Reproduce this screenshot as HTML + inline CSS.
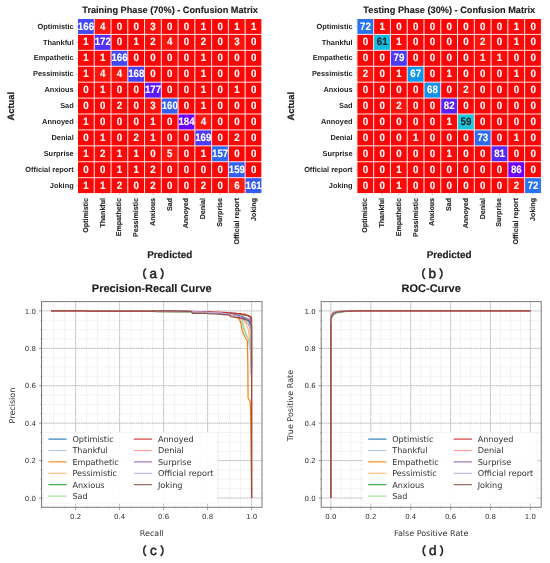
<!DOCTYPE html>
<html><head><meta charset="utf-8"><title>Confusion matrices, Precision-Recall and ROC curves</title>
<style>html,body{margin:0;padding:0;background:#fff}svg{display:block}</style></head><body>
<svg width="550" height="563" viewBox="0 0 550 563" text-rendering="geometricPrecision">
<rect width="550" height="563" fill="#fff"/>
<g>
<text x="170.1" y="12.8" text-anchor="middle" font-family="Liberation Sans, sans-serif" font-weight="bold" font-size="9.2" fill="#1c1c1c" stroke="#1c1c1c" stroke-width="0.12">Training Phase (70%) - Confusion Matrix</text>
<rect x="77.5" y="18.5" width="184.39999999999998" height="175.1" fill="#fb0606"/>
<rect x="77.50" y="18.50" width="16.76" height="15.92" fill="#4348f6"/>
<rect x="94.26" y="18.50" width="16.76" height="15.92" fill="#fb150d"/>
<rect x="144.55" y="18.50" width="16.76" height="15.92" fill="#fb120b"/>
<rect x="194.85" y="18.50" width="16.76" height="15.92" fill="#fb0807"/>
<rect x="228.37" y="18.50" width="16.76" height="15.92" fill="#fb0807"/>
<rect x="245.14" y="18.50" width="16.76" height="15.92" fill="#fb0807"/>
<rect x="77.50" y="34.42" width="16.76" height="15.92" fill="#fb0807"/>
<rect x="94.26" y="34.42" width="16.76" height="15.92" fill="#522ef7"/>
<rect x="127.79" y="34.42" width="16.76" height="15.92" fill="#fb0807"/>
<rect x="144.55" y="34.42" width="16.76" height="15.92" fill="#fb0b08"/>
<rect x="161.32" y="34.42" width="16.76" height="15.92" fill="#fb150d"/>
<rect x="194.85" y="34.42" width="16.76" height="15.92" fill="#fb0b08"/>
<rect x="228.37" y="34.42" width="16.76" height="15.92" fill="#fb120b"/>
<rect x="77.50" y="50.34" width="16.76" height="15.92" fill="#fb0807"/>
<rect x="94.26" y="50.34" width="16.76" height="15.92" fill="#fb0807"/>
<rect x="111.03" y="50.34" width="16.76" height="15.92" fill="#4348f6"/>
<rect x="194.85" y="50.34" width="16.76" height="15.92" fill="#fb0807"/>
<rect x="77.50" y="66.25" width="16.76" height="15.92" fill="#fb0807"/>
<rect x="94.26" y="66.25" width="16.76" height="15.92" fill="#fb150d"/>
<rect x="111.03" y="66.25" width="16.76" height="15.92" fill="#fb150d"/>
<rect x="127.79" y="66.25" width="16.76" height="15.92" fill="#483ff6"/>
<rect x="194.85" y="66.25" width="16.76" height="15.92" fill="#fb0807"/>
<rect x="94.26" y="82.17" width="16.76" height="15.92" fill="#fb0807"/>
<rect x="144.55" y="82.17" width="16.76" height="15.92" fill="#5e1af8"/>
<rect x="194.85" y="82.17" width="16.76" height="15.92" fill="#fb0807"/>
<rect x="228.37" y="82.17" width="16.76" height="15.92" fill="#fb0807"/>
<rect x="111.03" y="98.09" width="16.76" height="15.92" fill="#fb0b08"/>
<rect x="144.55" y="98.09" width="16.76" height="15.92" fill="#fb120b"/>
<rect x="161.32" y="98.09" width="16.76" height="15.92" fill="#355ef4"/>
<rect x="194.85" y="98.09" width="16.76" height="15.92" fill="#fb0807"/>
<rect x="77.50" y="114.01" width="16.76" height="15.92" fill="#fb0807"/>
<rect x="144.55" y="114.01" width="16.76" height="15.92" fill="#fb0807"/>
<rect x="178.08" y="114.01" width="16.76" height="15.92" fill="#6e00f9"/>
<rect x="194.85" y="114.01" width="16.76" height="15.92" fill="#fb150d"/>
<rect x="94.26" y="129.93" width="16.76" height="15.92" fill="#fb0807"/>
<rect x="127.79" y="129.93" width="16.76" height="15.92" fill="#fb0b08"/>
<rect x="144.55" y="129.93" width="16.76" height="15.92" fill="#fb0807"/>
<rect x="194.85" y="129.93" width="16.76" height="15.92" fill="#4b3af7"/>
<rect x="228.37" y="129.93" width="16.76" height="15.92" fill="#fb0b08"/>
<rect x="77.50" y="145.85" width="16.76" height="15.92" fill="#fb0807"/>
<rect x="94.26" y="145.85" width="16.76" height="15.92" fill="#fb0b08"/>
<rect x="111.03" y="145.85" width="16.76" height="15.92" fill="#fb0807"/>
<rect x="127.79" y="145.85" width="16.76" height="15.92" fill="#fb0807"/>
<rect x="161.32" y="145.85" width="16.76" height="15.92" fill="#fb180f"/>
<rect x="194.85" y="145.85" width="16.76" height="15.92" fill="#fb0807"/>
<rect x="211.61" y="145.85" width="16.76" height="15.92" fill="#2e68f2"/>
<rect x="111.03" y="161.76" width="16.76" height="15.92" fill="#fb0807"/>
<rect x="127.79" y="161.76" width="16.76" height="15.92" fill="#fb0807"/>
<rect x="144.55" y="161.76" width="16.76" height="15.92" fill="#fb0b08"/>
<rect x="228.37" y="161.76" width="16.76" height="15.92" fill="#3360f3"/>
<rect x="77.50" y="177.68" width="16.76" height="15.92" fill="#fb0807"/>
<rect x="94.26" y="177.68" width="16.76" height="15.92" fill="#fb0807"/>
<rect x="111.03" y="177.68" width="16.76" height="15.92" fill="#fb0b08"/>
<rect x="144.55" y="177.68" width="16.76" height="15.92" fill="#fb0b08"/>
<rect x="194.85" y="177.68" width="16.76" height="15.92" fill="#fb0b08"/>
<rect x="228.37" y="177.68" width="16.76" height="15.92" fill="#fb1e12"/>
<rect x="245.14" y="177.68" width="16.76" height="15.92" fill="#3858f4"/>
<line x1="94.26" y1="18.0" x2="94.26" y2="194.1" stroke="#ffe8e8" stroke-width="1"/>
<line x1="77.0" y1="34.42" x2="262.4" y2="34.42" stroke="#ffe8e8" stroke-width="1"/>
<line x1="111.03" y1="18.0" x2="111.03" y2="194.1" stroke="#ffe8e8" stroke-width="1"/>
<line x1="77.0" y1="50.34" x2="262.4" y2="50.34" stroke="#ffe8e8" stroke-width="1"/>
<line x1="127.79" y1="18.0" x2="127.79" y2="194.1" stroke="#ffe8e8" stroke-width="1"/>
<line x1="77.0" y1="66.25" x2="262.4" y2="66.25" stroke="#ffe8e8" stroke-width="1"/>
<line x1="144.55" y1="18.0" x2="144.55" y2="194.1" stroke="#ffe8e8" stroke-width="1"/>
<line x1="77.0" y1="82.17" x2="262.4" y2="82.17" stroke="#ffe8e8" stroke-width="1"/>
<line x1="161.32" y1="18.0" x2="161.32" y2="194.1" stroke="#ffe8e8" stroke-width="1"/>
<line x1="77.0" y1="98.09" x2="262.4" y2="98.09" stroke="#ffe8e8" stroke-width="1"/>
<line x1="178.08" y1="18.0" x2="178.08" y2="194.1" stroke="#ffe8e8" stroke-width="1"/>
<line x1="77.0" y1="114.01" x2="262.4" y2="114.01" stroke="#ffe8e8" stroke-width="1"/>
<line x1="194.85" y1="18.0" x2="194.85" y2="194.1" stroke="#ffe8e8" stroke-width="1"/>
<line x1="77.0" y1="129.93" x2="262.4" y2="129.93" stroke="#ffe8e8" stroke-width="1"/>
<line x1="211.61" y1="18.0" x2="211.61" y2="194.1" stroke="#ffe8e8" stroke-width="1"/>
<line x1="77.0" y1="145.85" x2="262.4" y2="145.85" stroke="#ffe8e8" stroke-width="1"/>
<line x1="228.37" y1="18.0" x2="228.37" y2="194.1" stroke="#ffe8e8" stroke-width="1"/>
<line x1="77.0" y1="161.76" x2="262.4" y2="161.76" stroke="#ffe8e8" stroke-width="1"/>
<line x1="245.14" y1="18.0" x2="245.14" y2="194.1" stroke="#ffe8e8" stroke-width="1"/>
<line x1="77.0" y1="177.68" x2="262.4" y2="177.68" stroke="#ffe8e8" stroke-width="1"/>
<line x1="77.50" y1="18.0" x2="77.50" y2="194.1" stroke="#ffffff" stroke-width="1"/>
<line x1="77.0" y1="18.50" x2="262.4" y2="18.50" stroke="#ffffff" stroke-width="1"/>
<line x1="261.90" y1="18.0" x2="261.90" y2="194.1" stroke="#ffffff" stroke-width="1"/>
<line x1="77.0" y1="193.60" x2="262.4" y2="193.60" stroke="#ffffff" stroke-width="1"/>
<text transform="translate(85.98,29.56) rotate(0.03) scale(0.91,1)" text-anchor="middle" font-family="Liberation Sans, sans-serif" font-weight="bold" font-size="10.7" fill="#ffffff" stroke="#ffffff" stroke-width="0.12">166</text>
<text transform="translate(102.75,29.56) rotate(0.03) scale(0.91,1)" text-anchor="middle" font-family="Liberation Sans, sans-serif" font-weight="bold" font-size="10.7" fill="#ffffff" stroke="#ffffff" stroke-width="0.12">4</text>
<text transform="translate(119.51,29.56) rotate(0.03) scale(0.91,1)" text-anchor="middle" font-family="Liberation Sans, sans-serif" font-weight="bold" font-size="10.7" fill="#ffffff" stroke="#ffffff" stroke-width="0.12">0</text>
<text transform="translate(136.27,29.56) rotate(0.03) scale(0.91,1)" text-anchor="middle" font-family="Liberation Sans, sans-serif" font-weight="bold" font-size="10.7" fill="#ffffff" stroke="#ffffff" stroke-width="0.12">0</text>
<text transform="translate(153.04,29.56) rotate(0.03) scale(0.91,1)" text-anchor="middle" font-family="Liberation Sans, sans-serif" font-weight="bold" font-size="10.7" fill="#ffffff" stroke="#ffffff" stroke-width="0.12">3</text>
<text transform="translate(169.80,29.56) rotate(0.03) scale(0.91,1)" text-anchor="middle" font-family="Liberation Sans, sans-serif" font-weight="bold" font-size="10.7" fill="#ffffff" stroke="#ffffff" stroke-width="0.12">0</text>
<text transform="translate(186.56,29.56) rotate(0.03) scale(0.91,1)" text-anchor="middle" font-family="Liberation Sans, sans-serif" font-weight="bold" font-size="10.7" fill="#ffffff" stroke="#ffffff" stroke-width="0.12">0</text>
<text transform="translate(203.33,29.56) rotate(0.03) scale(0.91,1)" text-anchor="middle" font-family="Liberation Sans, sans-serif" font-weight="bold" font-size="10.7" fill="#ffffff" stroke="#ffffff" stroke-width="0.12">1</text>
<text transform="translate(220.09,29.56) rotate(0.03) scale(0.91,1)" text-anchor="middle" font-family="Liberation Sans, sans-serif" font-weight="bold" font-size="10.7" fill="#ffffff" stroke="#ffffff" stroke-width="0.12">0</text>
<text transform="translate(236.85,29.56) rotate(0.03) scale(0.91,1)" text-anchor="middle" font-family="Liberation Sans, sans-serif" font-weight="bold" font-size="10.7" fill="#ffffff" stroke="#ffffff" stroke-width="0.12">1</text>
<text transform="translate(253.62,29.56) rotate(0.03) scale(0.91,1)" text-anchor="middle" font-family="Liberation Sans, sans-serif" font-weight="bold" font-size="10.7" fill="#ffffff" stroke="#ffffff" stroke-width="0.12">1</text>
<text transform="translate(85.98,45.48) rotate(0.03) scale(0.91,1)" text-anchor="middle" font-family="Liberation Sans, sans-serif" font-weight="bold" font-size="10.7" fill="#ffffff" stroke="#ffffff" stroke-width="0.12">1</text>
<text transform="translate(102.75,45.48) rotate(0.03) scale(0.91,1)" text-anchor="middle" font-family="Liberation Sans, sans-serif" font-weight="bold" font-size="10.7" fill="#ffffff" stroke="#ffffff" stroke-width="0.12">172</text>
<text transform="translate(119.51,45.48) rotate(0.03) scale(0.91,1)" text-anchor="middle" font-family="Liberation Sans, sans-serif" font-weight="bold" font-size="10.7" fill="#ffffff" stroke="#ffffff" stroke-width="0.12">0</text>
<text transform="translate(136.27,45.48) rotate(0.03) scale(0.91,1)" text-anchor="middle" font-family="Liberation Sans, sans-serif" font-weight="bold" font-size="10.7" fill="#ffffff" stroke="#ffffff" stroke-width="0.12">1</text>
<text transform="translate(153.04,45.48) rotate(0.03) scale(0.91,1)" text-anchor="middle" font-family="Liberation Sans, sans-serif" font-weight="bold" font-size="10.7" fill="#ffffff" stroke="#ffffff" stroke-width="0.12">2</text>
<text transform="translate(169.80,45.48) rotate(0.03) scale(0.91,1)" text-anchor="middle" font-family="Liberation Sans, sans-serif" font-weight="bold" font-size="10.7" fill="#ffffff" stroke="#ffffff" stroke-width="0.12">4</text>
<text transform="translate(186.56,45.48) rotate(0.03) scale(0.91,1)" text-anchor="middle" font-family="Liberation Sans, sans-serif" font-weight="bold" font-size="10.7" fill="#ffffff" stroke="#ffffff" stroke-width="0.12">0</text>
<text transform="translate(203.33,45.48) rotate(0.03) scale(0.91,1)" text-anchor="middle" font-family="Liberation Sans, sans-serif" font-weight="bold" font-size="10.7" fill="#ffffff" stroke="#ffffff" stroke-width="0.12">2</text>
<text transform="translate(220.09,45.48) rotate(0.03) scale(0.91,1)" text-anchor="middle" font-family="Liberation Sans, sans-serif" font-weight="bold" font-size="10.7" fill="#ffffff" stroke="#ffffff" stroke-width="0.12">0</text>
<text transform="translate(236.85,45.48) rotate(0.03) scale(0.91,1)" text-anchor="middle" font-family="Liberation Sans, sans-serif" font-weight="bold" font-size="10.7" fill="#ffffff" stroke="#ffffff" stroke-width="0.12">3</text>
<text transform="translate(253.62,45.48) rotate(0.03) scale(0.91,1)" text-anchor="middle" font-family="Liberation Sans, sans-serif" font-weight="bold" font-size="10.7" fill="#ffffff" stroke="#ffffff" stroke-width="0.12">0</text>
<text transform="translate(85.98,61.40) rotate(0.03) scale(0.91,1)" text-anchor="middle" font-family="Liberation Sans, sans-serif" font-weight="bold" font-size="10.7" fill="#ffffff" stroke="#ffffff" stroke-width="0.12">1</text>
<text transform="translate(102.75,61.40) rotate(0.03) scale(0.91,1)" text-anchor="middle" font-family="Liberation Sans, sans-serif" font-weight="bold" font-size="10.7" fill="#ffffff" stroke="#ffffff" stroke-width="0.12">1</text>
<text transform="translate(119.51,61.40) rotate(0.03) scale(0.91,1)" text-anchor="middle" font-family="Liberation Sans, sans-serif" font-weight="bold" font-size="10.7" fill="#ffffff" stroke="#ffffff" stroke-width="0.12">166</text>
<text transform="translate(136.27,61.40) rotate(0.03) scale(0.91,1)" text-anchor="middle" font-family="Liberation Sans, sans-serif" font-weight="bold" font-size="10.7" fill="#ffffff" stroke="#ffffff" stroke-width="0.12">0</text>
<text transform="translate(153.04,61.40) rotate(0.03) scale(0.91,1)" text-anchor="middle" font-family="Liberation Sans, sans-serif" font-weight="bold" font-size="10.7" fill="#ffffff" stroke="#ffffff" stroke-width="0.12">0</text>
<text transform="translate(169.80,61.40) rotate(0.03) scale(0.91,1)" text-anchor="middle" font-family="Liberation Sans, sans-serif" font-weight="bold" font-size="10.7" fill="#ffffff" stroke="#ffffff" stroke-width="0.12">0</text>
<text transform="translate(186.56,61.40) rotate(0.03) scale(0.91,1)" text-anchor="middle" font-family="Liberation Sans, sans-serif" font-weight="bold" font-size="10.7" fill="#ffffff" stroke="#ffffff" stroke-width="0.12">0</text>
<text transform="translate(203.33,61.40) rotate(0.03) scale(0.91,1)" text-anchor="middle" font-family="Liberation Sans, sans-serif" font-weight="bold" font-size="10.7" fill="#ffffff" stroke="#ffffff" stroke-width="0.12">1</text>
<text transform="translate(220.09,61.40) rotate(0.03) scale(0.91,1)" text-anchor="middle" font-family="Liberation Sans, sans-serif" font-weight="bold" font-size="10.7" fill="#ffffff" stroke="#ffffff" stroke-width="0.12">0</text>
<text transform="translate(236.85,61.40) rotate(0.03) scale(0.91,1)" text-anchor="middle" font-family="Liberation Sans, sans-serif" font-weight="bold" font-size="10.7" fill="#ffffff" stroke="#ffffff" stroke-width="0.12">0</text>
<text transform="translate(253.62,61.40) rotate(0.03) scale(0.91,1)" text-anchor="middle" font-family="Liberation Sans, sans-serif" font-weight="bold" font-size="10.7" fill="#ffffff" stroke="#ffffff" stroke-width="0.12">0</text>
<text transform="translate(85.98,77.31) rotate(0.03) scale(0.91,1)" text-anchor="middle" font-family="Liberation Sans, sans-serif" font-weight="bold" font-size="10.7" fill="#ffffff" stroke="#ffffff" stroke-width="0.12">1</text>
<text transform="translate(102.75,77.31) rotate(0.03) scale(0.91,1)" text-anchor="middle" font-family="Liberation Sans, sans-serif" font-weight="bold" font-size="10.7" fill="#ffffff" stroke="#ffffff" stroke-width="0.12">4</text>
<text transform="translate(119.51,77.31) rotate(0.03) scale(0.91,1)" text-anchor="middle" font-family="Liberation Sans, sans-serif" font-weight="bold" font-size="10.7" fill="#ffffff" stroke="#ffffff" stroke-width="0.12">4</text>
<text transform="translate(136.27,77.31) rotate(0.03) scale(0.91,1)" text-anchor="middle" font-family="Liberation Sans, sans-serif" font-weight="bold" font-size="10.7" fill="#ffffff" stroke="#ffffff" stroke-width="0.12">168</text>
<text transform="translate(153.04,77.31) rotate(0.03) scale(0.91,1)" text-anchor="middle" font-family="Liberation Sans, sans-serif" font-weight="bold" font-size="10.7" fill="#ffffff" stroke="#ffffff" stroke-width="0.12">0</text>
<text transform="translate(169.80,77.31) rotate(0.03) scale(0.91,1)" text-anchor="middle" font-family="Liberation Sans, sans-serif" font-weight="bold" font-size="10.7" fill="#ffffff" stroke="#ffffff" stroke-width="0.12">0</text>
<text transform="translate(186.56,77.31) rotate(0.03) scale(0.91,1)" text-anchor="middle" font-family="Liberation Sans, sans-serif" font-weight="bold" font-size="10.7" fill="#ffffff" stroke="#ffffff" stroke-width="0.12">0</text>
<text transform="translate(203.33,77.31) rotate(0.03) scale(0.91,1)" text-anchor="middle" font-family="Liberation Sans, sans-serif" font-weight="bold" font-size="10.7" fill="#ffffff" stroke="#ffffff" stroke-width="0.12">1</text>
<text transform="translate(220.09,77.31) rotate(0.03) scale(0.91,1)" text-anchor="middle" font-family="Liberation Sans, sans-serif" font-weight="bold" font-size="10.7" fill="#ffffff" stroke="#ffffff" stroke-width="0.12">0</text>
<text transform="translate(236.85,77.31) rotate(0.03) scale(0.91,1)" text-anchor="middle" font-family="Liberation Sans, sans-serif" font-weight="bold" font-size="10.7" fill="#ffffff" stroke="#ffffff" stroke-width="0.12">0</text>
<text transform="translate(253.62,77.31) rotate(0.03) scale(0.91,1)" text-anchor="middle" font-family="Liberation Sans, sans-serif" font-weight="bold" font-size="10.7" fill="#ffffff" stroke="#ffffff" stroke-width="0.12">0</text>
<text transform="translate(85.98,93.23) rotate(0.03) scale(0.91,1)" text-anchor="middle" font-family="Liberation Sans, sans-serif" font-weight="bold" font-size="10.7" fill="#ffffff" stroke="#ffffff" stroke-width="0.12">0</text>
<text transform="translate(102.75,93.23) rotate(0.03) scale(0.91,1)" text-anchor="middle" font-family="Liberation Sans, sans-serif" font-weight="bold" font-size="10.7" fill="#ffffff" stroke="#ffffff" stroke-width="0.12">1</text>
<text transform="translate(119.51,93.23) rotate(0.03) scale(0.91,1)" text-anchor="middle" font-family="Liberation Sans, sans-serif" font-weight="bold" font-size="10.7" fill="#ffffff" stroke="#ffffff" stroke-width="0.12">0</text>
<text transform="translate(136.27,93.23) rotate(0.03) scale(0.91,1)" text-anchor="middle" font-family="Liberation Sans, sans-serif" font-weight="bold" font-size="10.7" fill="#ffffff" stroke="#ffffff" stroke-width="0.12">0</text>
<text transform="translate(153.04,93.23) rotate(0.03) scale(0.91,1)" text-anchor="middle" font-family="Liberation Sans, sans-serif" font-weight="bold" font-size="10.7" fill="#ffffff" stroke="#ffffff" stroke-width="0.12">177</text>
<text transform="translate(169.80,93.23) rotate(0.03) scale(0.91,1)" text-anchor="middle" font-family="Liberation Sans, sans-serif" font-weight="bold" font-size="10.7" fill="#ffffff" stroke="#ffffff" stroke-width="0.12">0</text>
<text transform="translate(186.56,93.23) rotate(0.03) scale(0.91,1)" text-anchor="middle" font-family="Liberation Sans, sans-serif" font-weight="bold" font-size="10.7" fill="#ffffff" stroke="#ffffff" stroke-width="0.12">0</text>
<text transform="translate(203.33,93.23) rotate(0.03) scale(0.91,1)" text-anchor="middle" font-family="Liberation Sans, sans-serif" font-weight="bold" font-size="10.7" fill="#ffffff" stroke="#ffffff" stroke-width="0.12">1</text>
<text transform="translate(220.09,93.23) rotate(0.03) scale(0.91,1)" text-anchor="middle" font-family="Liberation Sans, sans-serif" font-weight="bold" font-size="10.7" fill="#ffffff" stroke="#ffffff" stroke-width="0.12">0</text>
<text transform="translate(236.85,93.23) rotate(0.03) scale(0.91,1)" text-anchor="middle" font-family="Liberation Sans, sans-serif" font-weight="bold" font-size="10.7" fill="#ffffff" stroke="#ffffff" stroke-width="0.12">1</text>
<text transform="translate(253.62,93.23) rotate(0.03) scale(0.91,1)" text-anchor="middle" font-family="Liberation Sans, sans-serif" font-weight="bold" font-size="10.7" fill="#ffffff" stroke="#ffffff" stroke-width="0.12">0</text>
<text transform="translate(85.98,109.15) rotate(0.03) scale(0.91,1)" text-anchor="middle" font-family="Liberation Sans, sans-serif" font-weight="bold" font-size="10.7" fill="#ffffff" stroke="#ffffff" stroke-width="0.12">0</text>
<text transform="translate(102.75,109.15) rotate(0.03) scale(0.91,1)" text-anchor="middle" font-family="Liberation Sans, sans-serif" font-weight="bold" font-size="10.7" fill="#ffffff" stroke="#ffffff" stroke-width="0.12">0</text>
<text transform="translate(119.51,109.15) rotate(0.03) scale(0.91,1)" text-anchor="middle" font-family="Liberation Sans, sans-serif" font-weight="bold" font-size="10.7" fill="#ffffff" stroke="#ffffff" stroke-width="0.12">2</text>
<text transform="translate(136.27,109.15) rotate(0.03) scale(0.91,1)" text-anchor="middle" font-family="Liberation Sans, sans-serif" font-weight="bold" font-size="10.7" fill="#ffffff" stroke="#ffffff" stroke-width="0.12">0</text>
<text transform="translate(153.04,109.15) rotate(0.03) scale(0.91,1)" text-anchor="middle" font-family="Liberation Sans, sans-serif" font-weight="bold" font-size="10.7" fill="#ffffff" stroke="#ffffff" stroke-width="0.12">3</text>
<text transform="translate(169.80,109.15) rotate(0.03) scale(0.91,1)" text-anchor="middle" font-family="Liberation Sans, sans-serif" font-weight="bold" font-size="10.7" fill="#ffffff" stroke="#ffffff" stroke-width="0.12">160</text>
<text transform="translate(186.56,109.15) rotate(0.03) scale(0.91,1)" text-anchor="middle" font-family="Liberation Sans, sans-serif" font-weight="bold" font-size="10.7" fill="#ffffff" stroke="#ffffff" stroke-width="0.12">0</text>
<text transform="translate(203.33,109.15) rotate(0.03) scale(0.91,1)" text-anchor="middle" font-family="Liberation Sans, sans-serif" font-weight="bold" font-size="10.7" fill="#ffffff" stroke="#ffffff" stroke-width="0.12">1</text>
<text transform="translate(220.09,109.15) rotate(0.03) scale(0.91,1)" text-anchor="middle" font-family="Liberation Sans, sans-serif" font-weight="bold" font-size="10.7" fill="#ffffff" stroke="#ffffff" stroke-width="0.12">0</text>
<text transform="translate(236.85,109.15) rotate(0.03) scale(0.91,1)" text-anchor="middle" font-family="Liberation Sans, sans-serif" font-weight="bold" font-size="10.7" fill="#ffffff" stroke="#ffffff" stroke-width="0.12">0</text>
<text transform="translate(253.62,109.15) rotate(0.03) scale(0.91,1)" text-anchor="middle" font-family="Liberation Sans, sans-serif" font-weight="bold" font-size="10.7" fill="#ffffff" stroke="#ffffff" stroke-width="0.12">0</text>
<text transform="translate(85.98,125.07) rotate(0.03) scale(0.91,1)" text-anchor="middle" font-family="Liberation Sans, sans-serif" font-weight="bold" font-size="10.7" fill="#ffffff" stroke="#ffffff" stroke-width="0.12">1</text>
<text transform="translate(102.75,125.07) rotate(0.03) scale(0.91,1)" text-anchor="middle" font-family="Liberation Sans, sans-serif" font-weight="bold" font-size="10.7" fill="#ffffff" stroke="#ffffff" stroke-width="0.12">0</text>
<text transform="translate(119.51,125.07) rotate(0.03) scale(0.91,1)" text-anchor="middle" font-family="Liberation Sans, sans-serif" font-weight="bold" font-size="10.7" fill="#ffffff" stroke="#ffffff" stroke-width="0.12">0</text>
<text transform="translate(136.27,125.07) rotate(0.03) scale(0.91,1)" text-anchor="middle" font-family="Liberation Sans, sans-serif" font-weight="bold" font-size="10.7" fill="#ffffff" stroke="#ffffff" stroke-width="0.12">0</text>
<text transform="translate(153.04,125.07) rotate(0.03) scale(0.91,1)" text-anchor="middle" font-family="Liberation Sans, sans-serif" font-weight="bold" font-size="10.7" fill="#ffffff" stroke="#ffffff" stroke-width="0.12">1</text>
<text transform="translate(169.80,125.07) rotate(0.03) scale(0.91,1)" text-anchor="middle" font-family="Liberation Sans, sans-serif" font-weight="bold" font-size="10.7" fill="#ffffff" stroke="#ffffff" stroke-width="0.12">0</text>
<text transform="translate(186.56,125.07) rotate(0.03) scale(0.91,1)" text-anchor="middle" font-family="Liberation Sans, sans-serif" font-weight="bold" font-size="10.7" fill="#ffffff" stroke="#ffffff" stroke-width="0.12">184</text>
<text transform="translate(203.33,125.07) rotate(0.03) scale(0.91,1)" text-anchor="middle" font-family="Liberation Sans, sans-serif" font-weight="bold" font-size="10.7" fill="#ffffff" stroke="#ffffff" stroke-width="0.12">4</text>
<text transform="translate(220.09,125.07) rotate(0.03) scale(0.91,1)" text-anchor="middle" font-family="Liberation Sans, sans-serif" font-weight="bold" font-size="10.7" fill="#ffffff" stroke="#ffffff" stroke-width="0.12">0</text>
<text transform="translate(236.85,125.07) rotate(0.03) scale(0.91,1)" text-anchor="middle" font-family="Liberation Sans, sans-serif" font-weight="bold" font-size="10.7" fill="#ffffff" stroke="#ffffff" stroke-width="0.12">0</text>
<text transform="translate(253.62,125.07) rotate(0.03) scale(0.91,1)" text-anchor="middle" font-family="Liberation Sans, sans-serif" font-weight="bold" font-size="10.7" fill="#ffffff" stroke="#ffffff" stroke-width="0.12">0</text>
<text transform="translate(85.98,140.99) rotate(0.03) scale(0.91,1)" text-anchor="middle" font-family="Liberation Sans, sans-serif" font-weight="bold" font-size="10.7" fill="#ffffff" stroke="#ffffff" stroke-width="0.12">0</text>
<text transform="translate(102.75,140.99) rotate(0.03) scale(0.91,1)" text-anchor="middle" font-family="Liberation Sans, sans-serif" font-weight="bold" font-size="10.7" fill="#ffffff" stroke="#ffffff" stroke-width="0.12">1</text>
<text transform="translate(119.51,140.99) rotate(0.03) scale(0.91,1)" text-anchor="middle" font-family="Liberation Sans, sans-serif" font-weight="bold" font-size="10.7" fill="#ffffff" stroke="#ffffff" stroke-width="0.12">0</text>
<text transform="translate(136.27,140.99) rotate(0.03) scale(0.91,1)" text-anchor="middle" font-family="Liberation Sans, sans-serif" font-weight="bold" font-size="10.7" fill="#ffffff" stroke="#ffffff" stroke-width="0.12">2</text>
<text transform="translate(153.04,140.99) rotate(0.03) scale(0.91,1)" text-anchor="middle" font-family="Liberation Sans, sans-serif" font-weight="bold" font-size="10.7" fill="#ffffff" stroke="#ffffff" stroke-width="0.12">1</text>
<text transform="translate(169.80,140.99) rotate(0.03) scale(0.91,1)" text-anchor="middle" font-family="Liberation Sans, sans-serif" font-weight="bold" font-size="10.7" fill="#ffffff" stroke="#ffffff" stroke-width="0.12">0</text>
<text transform="translate(186.56,140.99) rotate(0.03) scale(0.91,1)" text-anchor="middle" font-family="Liberation Sans, sans-serif" font-weight="bold" font-size="10.7" fill="#ffffff" stroke="#ffffff" stroke-width="0.12">0</text>
<text transform="translate(203.33,140.99) rotate(0.03) scale(0.91,1)" text-anchor="middle" font-family="Liberation Sans, sans-serif" font-weight="bold" font-size="10.7" fill="#ffffff" stroke="#ffffff" stroke-width="0.12">169</text>
<text transform="translate(220.09,140.99) rotate(0.03) scale(0.91,1)" text-anchor="middle" font-family="Liberation Sans, sans-serif" font-weight="bold" font-size="10.7" fill="#ffffff" stroke="#ffffff" stroke-width="0.12">0</text>
<text transform="translate(236.85,140.99) rotate(0.03) scale(0.91,1)" text-anchor="middle" font-family="Liberation Sans, sans-serif" font-weight="bold" font-size="10.7" fill="#ffffff" stroke="#ffffff" stroke-width="0.12">2</text>
<text transform="translate(253.62,140.99) rotate(0.03) scale(0.91,1)" text-anchor="middle" font-family="Liberation Sans, sans-serif" font-weight="bold" font-size="10.7" fill="#ffffff" stroke="#ffffff" stroke-width="0.12">0</text>
<text transform="translate(85.98,156.90) rotate(0.03) scale(0.91,1)" text-anchor="middle" font-family="Liberation Sans, sans-serif" font-weight="bold" font-size="10.7" fill="#ffffff" stroke="#ffffff" stroke-width="0.12">1</text>
<text transform="translate(102.75,156.90) rotate(0.03) scale(0.91,1)" text-anchor="middle" font-family="Liberation Sans, sans-serif" font-weight="bold" font-size="10.7" fill="#ffffff" stroke="#ffffff" stroke-width="0.12">2</text>
<text transform="translate(119.51,156.90) rotate(0.03) scale(0.91,1)" text-anchor="middle" font-family="Liberation Sans, sans-serif" font-weight="bold" font-size="10.7" fill="#ffffff" stroke="#ffffff" stroke-width="0.12">1</text>
<text transform="translate(136.27,156.90) rotate(0.03) scale(0.91,1)" text-anchor="middle" font-family="Liberation Sans, sans-serif" font-weight="bold" font-size="10.7" fill="#ffffff" stroke="#ffffff" stroke-width="0.12">1</text>
<text transform="translate(153.04,156.90) rotate(0.03) scale(0.91,1)" text-anchor="middle" font-family="Liberation Sans, sans-serif" font-weight="bold" font-size="10.7" fill="#ffffff" stroke="#ffffff" stroke-width="0.12">0</text>
<text transform="translate(169.80,156.90) rotate(0.03) scale(0.91,1)" text-anchor="middle" font-family="Liberation Sans, sans-serif" font-weight="bold" font-size="10.7" fill="#ffffff" stroke="#ffffff" stroke-width="0.12">5</text>
<text transform="translate(186.56,156.90) rotate(0.03) scale(0.91,1)" text-anchor="middle" font-family="Liberation Sans, sans-serif" font-weight="bold" font-size="10.7" fill="#ffffff" stroke="#ffffff" stroke-width="0.12">0</text>
<text transform="translate(203.33,156.90) rotate(0.03) scale(0.91,1)" text-anchor="middle" font-family="Liberation Sans, sans-serif" font-weight="bold" font-size="10.7" fill="#ffffff" stroke="#ffffff" stroke-width="0.12">1</text>
<text transform="translate(220.09,156.90) rotate(0.03) scale(0.91,1)" text-anchor="middle" font-family="Liberation Sans, sans-serif" font-weight="bold" font-size="10.7" fill="#ffffff" stroke="#ffffff" stroke-width="0.12">157</text>
<text transform="translate(236.85,156.90) rotate(0.03) scale(0.91,1)" text-anchor="middle" font-family="Liberation Sans, sans-serif" font-weight="bold" font-size="10.7" fill="#ffffff" stroke="#ffffff" stroke-width="0.12">0</text>
<text transform="translate(253.62,156.90) rotate(0.03) scale(0.91,1)" text-anchor="middle" font-family="Liberation Sans, sans-serif" font-weight="bold" font-size="10.7" fill="#ffffff" stroke="#ffffff" stroke-width="0.12">0</text>
<text transform="translate(85.98,172.82) rotate(0.03) scale(0.91,1)" text-anchor="middle" font-family="Liberation Sans, sans-serif" font-weight="bold" font-size="10.7" fill="#ffffff" stroke="#ffffff" stroke-width="0.12">0</text>
<text transform="translate(102.75,172.82) rotate(0.03) scale(0.91,1)" text-anchor="middle" font-family="Liberation Sans, sans-serif" font-weight="bold" font-size="10.7" fill="#ffffff" stroke="#ffffff" stroke-width="0.12">0</text>
<text transform="translate(119.51,172.82) rotate(0.03) scale(0.91,1)" text-anchor="middle" font-family="Liberation Sans, sans-serif" font-weight="bold" font-size="10.7" fill="#ffffff" stroke="#ffffff" stroke-width="0.12">1</text>
<text transform="translate(136.27,172.82) rotate(0.03) scale(0.91,1)" text-anchor="middle" font-family="Liberation Sans, sans-serif" font-weight="bold" font-size="10.7" fill="#ffffff" stroke="#ffffff" stroke-width="0.12">1</text>
<text transform="translate(153.04,172.82) rotate(0.03) scale(0.91,1)" text-anchor="middle" font-family="Liberation Sans, sans-serif" font-weight="bold" font-size="10.7" fill="#ffffff" stroke="#ffffff" stroke-width="0.12">2</text>
<text transform="translate(169.80,172.82) rotate(0.03) scale(0.91,1)" text-anchor="middle" font-family="Liberation Sans, sans-serif" font-weight="bold" font-size="10.7" fill="#ffffff" stroke="#ffffff" stroke-width="0.12">0</text>
<text transform="translate(186.56,172.82) rotate(0.03) scale(0.91,1)" text-anchor="middle" font-family="Liberation Sans, sans-serif" font-weight="bold" font-size="10.7" fill="#ffffff" stroke="#ffffff" stroke-width="0.12">0</text>
<text transform="translate(203.33,172.82) rotate(0.03) scale(0.91,1)" text-anchor="middle" font-family="Liberation Sans, sans-serif" font-weight="bold" font-size="10.7" fill="#ffffff" stroke="#ffffff" stroke-width="0.12">0</text>
<text transform="translate(220.09,172.82) rotate(0.03) scale(0.91,1)" text-anchor="middle" font-family="Liberation Sans, sans-serif" font-weight="bold" font-size="10.7" fill="#ffffff" stroke="#ffffff" stroke-width="0.12">0</text>
<text transform="translate(236.85,172.82) rotate(0.03) scale(0.91,1)" text-anchor="middle" font-family="Liberation Sans, sans-serif" font-weight="bold" font-size="10.7" fill="#ffffff" stroke="#ffffff" stroke-width="0.12">159</text>
<text transform="translate(253.62,172.82) rotate(0.03) scale(0.91,1)" text-anchor="middle" font-family="Liberation Sans, sans-serif" font-weight="bold" font-size="10.7" fill="#ffffff" stroke="#ffffff" stroke-width="0.12">0</text>
<text transform="translate(85.98,188.74) rotate(0.03) scale(0.91,1)" text-anchor="middle" font-family="Liberation Sans, sans-serif" font-weight="bold" font-size="10.7" fill="#ffffff" stroke="#ffffff" stroke-width="0.12">1</text>
<text transform="translate(102.75,188.74) rotate(0.03) scale(0.91,1)" text-anchor="middle" font-family="Liberation Sans, sans-serif" font-weight="bold" font-size="10.7" fill="#ffffff" stroke="#ffffff" stroke-width="0.12">1</text>
<text transform="translate(119.51,188.74) rotate(0.03) scale(0.91,1)" text-anchor="middle" font-family="Liberation Sans, sans-serif" font-weight="bold" font-size="10.7" fill="#ffffff" stroke="#ffffff" stroke-width="0.12">2</text>
<text transform="translate(136.27,188.74) rotate(0.03) scale(0.91,1)" text-anchor="middle" font-family="Liberation Sans, sans-serif" font-weight="bold" font-size="10.7" fill="#ffffff" stroke="#ffffff" stroke-width="0.12">0</text>
<text transform="translate(153.04,188.74) rotate(0.03) scale(0.91,1)" text-anchor="middle" font-family="Liberation Sans, sans-serif" font-weight="bold" font-size="10.7" fill="#ffffff" stroke="#ffffff" stroke-width="0.12">2</text>
<text transform="translate(169.80,188.74) rotate(0.03) scale(0.91,1)" text-anchor="middle" font-family="Liberation Sans, sans-serif" font-weight="bold" font-size="10.7" fill="#ffffff" stroke="#ffffff" stroke-width="0.12">0</text>
<text transform="translate(186.56,188.74) rotate(0.03) scale(0.91,1)" text-anchor="middle" font-family="Liberation Sans, sans-serif" font-weight="bold" font-size="10.7" fill="#ffffff" stroke="#ffffff" stroke-width="0.12">0</text>
<text transform="translate(203.33,188.74) rotate(0.03) scale(0.91,1)" text-anchor="middle" font-family="Liberation Sans, sans-serif" font-weight="bold" font-size="10.7" fill="#ffffff" stroke="#ffffff" stroke-width="0.12">2</text>
<text transform="translate(220.09,188.74) rotate(0.03) scale(0.91,1)" text-anchor="middle" font-family="Liberation Sans, sans-serif" font-weight="bold" font-size="10.7" fill="#ffffff" stroke="#ffffff" stroke-width="0.12">0</text>
<text transform="translate(236.85,188.74) rotate(0.03) scale(0.91,1)" text-anchor="middle" font-family="Liberation Sans, sans-serif" font-weight="bold" font-size="10.7" fill="#ffffff" stroke="#ffffff" stroke-width="0.12">6</text>
<text transform="translate(253.62,188.74) rotate(0.03) scale(0.91,1)" text-anchor="middle" font-family="Liberation Sans, sans-serif" font-weight="bold" font-size="10.7" fill="#ffffff" stroke="#ffffff" stroke-width="0.12">161</text>
<line x1="76.0" y1="26.46" x2="78.0" y2="26.46" stroke="#999" stroke-width="0.5"/>
<line x1="85.88" y1="193.1" x2="85.88" y2="195.1" stroke="#999" stroke-width="0.5"/>
<text x="73.70" y="28.61" text-anchor="end" font-family="Liberation Sans, sans-serif" font-weight="bold" font-size="7.4" fill="#262626">Optimistic</text>
<text transform="translate(87.88,198.00) rotate(-90)" text-anchor="end" font-family="Liberation Sans, sans-serif" font-weight="bold" font-size="7.1" fill="#262626" stroke="#262626" stroke-width="0.15">Optimistic</text>
<line x1="76.0" y1="42.38" x2="78.0" y2="42.38" stroke="#999" stroke-width="0.5"/>
<line x1="102.65" y1="193.1" x2="102.65" y2="195.1" stroke="#999" stroke-width="0.5"/>
<text x="73.70" y="44.53" text-anchor="end" font-family="Liberation Sans, sans-serif" font-weight="bold" font-size="7.4" fill="#262626">Thankful</text>
<text transform="translate(104.65,198.00) rotate(-90)" text-anchor="end" font-family="Liberation Sans, sans-serif" font-weight="bold" font-size="7.1" fill="#262626" stroke="#262626" stroke-width="0.15">Thankful</text>
<line x1="76.0" y1="58.30" x2="78.0" y2="58.30" stroke="#999" stroke-width="0.5"/>
<line x1="119.41" y1="193.1" x2="119.41" y2="195.1" stroke="#999" stroke-width="0.5"/>
<text x="73.70" y="60.45" text-anchor="end" font-family="Liberation Sans, sans-serif" font-weight="bold" font-size="7.4" fill="#262626">Empathetic</text>
<text transform="translate(121.41,198.00) rotate(-90)" text-anchor="end" font-family="Liberation Sans, sans-serif" font-weight="bold" font-size="7.1" fill="#262626" stroke="#262626" stroke-width="0.15">Empathetic</text>
<line x1="76.0" y1="74.21" x2="78.0" y2="74.21" stroke="#999" stroke-width="0.5"/>
<line x1="136.17" y1="193.1" x2="136.17" y2="195.1" stroke="#999" stroke-width="0.5"/>
<text x="73.70" y="76.36" text-anchor="end" font-family="Liberation Sans, sans-serif" font-weight="bold" font-size="7.4" fill="#262626">Pessimistic</text>
<text transform="translate(138.17,198.00) rotate(-90)" text-anchor="end" font-family="Liberation Sans, sans-serif" font-weight="bold" font-size="7.1" fill="#262626" stroke="#262626" stroke-width="0.15">Pessimistic</text>
<line x1="76.0" y1="90.13" x2="78.0" y2="90.13" stroke="#999" stroke-width="0.5"/>
<line x1="152.94" y1="193.1" x2="152.94" y2="195.1" stroke="#999" stroke-width="0.5"/>
<text x="73.70" y="92.28" text-anchor="end" font-family="Liberation Sans, sans-serif" font-weight="bold" font-size="7.4" fill="#262626">Anxious</text>
<text transform="translate(154.94,198.00) rotate(-90)" text-anchor="end" font-family="Liberation Sans, sans-serif" font-weight="bold" font-size="7.1" fill="#262626" stroke="#262626" stroke-width="0.15">Anxious</text>
<line x1="76.0" y1="106.05" x2="78.0" y2="106.05" stroke="#999" stroke-width="0.5"/>
<line x1="169.70" y1="193.1" x2="169.70" y2="195.1" stroke="#999" stroke-width="0.5"/>
<text x="73.70" y="108.20" text-anchor="end" font-family="Liberation Sans, sans-serif" font-weight="bold" font-size="7.4" fill="#262626">Sad</text>
<text transform="translate(171.70,198.00) rotate(-90)" text-anchor="end" font-family="Liberation Sans, sans-serif" font-weight="bold" font-size="7.1" fill="#262626" stroke="#262626" stroke-width="0.15">Sad</text>
<line x1="76.0" y1="121.97" x2="78.0" y2="121.97" stroke="#999" stroke-width="0.5"/>
<line x1="186.46" y1="193.1" x2="186.46" y2="195.1" stroke="#999" stroke-width="0.5"/>
<text x="73.70" y="124.12" text-anchor="end" font-family="Liberation Sans, sans-serif" font-weight="bold" font-size="7.4" fill="#262626">Annoyed</text>
<text transform="translate(188.46,198.00) rotate(-90)" text-anchor="end" font-family="Liberation Sans, sans-serif" font-weight="bold" font-size="7.1" fill="#262626" stroke="#262626" stroke-width="0.15">Annoyed</text>
<line x1="76.0" y1="137.89" x2="78.0" y2="137.89" stroke="#999" stroke-width="0.5"/>
<line x1="203.23" y1="193.1" x2="203.23" y2="195.1" stroke="#999" stroke-width="0.5"/>
<text x="73.70" y="140.04" text-anchor="end" font-family="Liberation Sans, sans-serif" font-weight="bold" font-size="7.4" fill="#262626">Denial</text>
<text transform="translate(205.23,198.00) rotate(-90)" text-anchor="end" font-family="Liberation Sans, sans-serif" font-weight="bold" font-size="7.1" fill="#262626" stroke="#262626" stroke-width="0.15">Denial</text>
<line x1="76.0" y1="153.80" x2="78.0" y2="153.80" stroke="#999" stroke-width="0.5"/>
<line x1="219.99" y1="193.1" x2="219.99" y2="195.1" stroke="#999" stroke-width="0.5"/>
<text x="73.70" y="155.95" text-anchor="end" font-family="Liberation Sans, sans-serif" font-weight="bold" font-size="7.4" fill="#262626">Surprise</text>
<text transform="translate(221.99,198.00) rotate(-90)" text-anchor="end" font-family="Liberation Sans, sans-serif" font-weight="bold" font-size="7.1" fill="#262626" stroke="#262626" stroke-width="0.15">Surprise</text>
<line x1="76.0" y1="169.72" x2="78.0" y2="169.72" stroke="#999" stroke-width="0.5"/>
<line x1="236.75" y1="193.1" x2="236.75" y2="195.1" stroke="#999" stroke-width="0.5"/>
<text x="73.70" y="171.87" text-anchor="end" font-family="Liberation Sans, sans-serif" font-weight="bold" font-size="7.4" fill="#262626">Official report</text>
<text transform="translate(238.75,198.00) rotate(-90)" text-anchor="end" font-family="Liberation Sans, sans-serif" font-weight="bold" font-size="7.1" fill="#262626" stroke="#262626" stroke-width="0.15">Official report</text>
<line x1="76.0" y1="185.64" x2="78.0" y2="185.64" stroke="#999" stroke-width="0.5"/>
<line x1="253.52" y1="193.1" x2="253.52" y2="195.1" stroke="#999" stroke-width="0.5"/>
<text x="73.70" y="187.79" text-anchor="end" font-family="Liberation Sans, sans-serif" font-weight="bold" font-size="7.4" fill="#262626">Joking</text>
<text transform="translate(255.52,198.00) rotate(-90)" text-anchor="end" font-family="Liberation Sans, sans-serif" font-weight="bold" font-size="7.1" fill="#262626" stroke="#262626" stroke-width="0.15">Joking</text>
<text transform="translate(14.1,106.25) rotate(-90)" text-anchor="middle" font-family="Liberation Sans, sans-serif" font-weight="bold" font-size="9.3" fill="#1c1c1c" stroke="#1c1c1c" stroke-width="0.2">Actual</text>
<text x="169.70" y="258.2" text-anchor="middle" font-family="Liberation Sans, sans-serif" font-weight="bold" font-size="9.9" fill="#1c1c1c" stroke="#1c1c1c" stroke-width="0.15">Predicted</text>
<text x="146.80" y="278.10" text-anchor="end" font-family="Liberation Sans, Noto Sans CJK SC, sans-serif" font-size="11.4" font-weight="bold" fill="#222" stroke="#222" stroke-width="0.25">（</text>
<text x="153.20" y="278.30" text-anchor="middle" font-family="Liberation Sans, Noto Sans CJK SC, sans-serif" font-size="13.5" fill="#222" stroke="#222" stroke-width="0.5">a</text>
<text x="159.70" y="278.10" text-anchor="start" font-family="Liberation Sans, Noto Sans CJK SC, sans-serif" font-size="11.4" font-weight="bold" fill="#222" stroke="#222" stroke-width="0.25">）</text>
</g>
<g>
<text x="449.3" y="12.8" text-anchor="middle" font-family="Liberation Sans, sans-serif" font-weight="bold" font-size="9.2" fill="#1c1c1c" stroke="#1c1c1c" stroke-width="0.12">Testing Phase (30%) - Confusion Matrix</text>
<rect x="356.9" y="18.5" width="184.5" height="175.1" fill="#fb0606"/>
<rect x="356.90" y="18.50" width="16.77" height="15.92" fill="#2773f1"/>
<rect x="373.67" y="18.50" width="16.77" height="15.92" fill="#fb0b08"/>
<rect x="507.85" y="18.50" width="16.77" height="15.92" fill="#fb0b08"/>
<rect x="373.67" y="34.42" width="16.77" height="15.92" fill="#12bbdf"/>
<rect x="390.45" y="34.42" width="16.77" height="15.92" fill="#fb0b08"/>
<rect x="474.31" y="34.42" width="16.77" height="15.92" fill="#fb150d"/>
<rect x="507.85" y="34.42" width="16.77" height="15.92" fill="#fb0b08"/>
<rect x="390.45" y="50.34" width="16.77" height="15.92" fill="#4b3af7"/>
<rect x="474.31" y="50.34" width="16.77" height="15.92" fill="#fb0b08"/>
<rect x="491.08" y="50.34" width="16.77" height="15.92" fill="#fb0b08"/>
<rect x="356.90" y="66.25" width="16.77" height="15.92" fill="#fb150d"/>
<rect x="390.45" y="66.25" width="16.77" height="15.92" fill="#fb0b08"/>
<rect x="407.22" y="66.25" width="16.77" height="15.92" fill="#0d97ea"/>
<rect x="440.76" y="66.25" width="16.77" height="15.92" fill="#fb0b08"/>
<rect x="507.85" y="66.25" width="16.77" height="15.92" fill="#fb0b08"/>
<rect x="423.99" y="82.17" width="16.77" height="15.92" fill="#1290eb"/>
<rect x="457.54" y="82.17" width="16.77" height="15.92" fill="#fb150d"/>
<rect x="390.45" y="98.09" width="16.77" height="15.92" fill="#fb150d"/>
<rect x="440.76" y="98.09" width="16.77" height="15.92" fill="#5b20f8"/>
<rect x="440.76" y="114.01" width="16.77" height="15.92" fill="#fb0b08"/>
<rect x="457.54" y="114.01" width="16.77" height="15.92" fill="#1cc6db"/>
<rect x="407.22" y="129.93" width="16.77" height="15.92" fill="#fb0b08"/>
<rect x="474.31" y="129.93" width="16.77" height="15.92" fill="#2c6bf2"/>
<rect x="507.85" y="129.93" width="16.77" height="15.92" fill="#fb0b08"/>
<rect x="440.76" y="145.85" width="16.77" height="15.92" fill="#fb0b08"/>
<rect x="491.08" y="145.85" width="16.77" height="15.92" fill="#5629f8"/>
<rect x="390.45" y="161.76" width="16.77" height="15.92" fill="#fb0b08"/>
<rect x="507.85" y="161.76" width="16.77" height="15.92" fill="#6e00f9"/>
<rect x="390.45" y="177.68" width="16.77" height="15.92" fill="#fb0b08"/>
<rect x="507.85" y="177.68" width="16.77" height="15.92" fill="#fb150d"/>
<rect x="524.63" y="177.68" width="16.77" height="15.92" fill="#2773f1"/>
<line x1="373.67" y1="18.0" x2="373.67" y2="194.1" stroke="#ffe8e8" stroke-width="1"/>
<line x1="356.4" y1="34.42" x2="541.9" y2="34.42" stroke="#ffe8e8" stroke-width="1"/>
<line x1="390.45" y1="18.0" x2="390.45" y2="194.1" stroke="#ffe8e8" stroke-width="1"/>
<line x1="356.4" y1="50.34" x2="541.9" y2="50.34" stroke="#ffe8e8" stroke-width="1"/>
<line x1="407.22" y1="18.0" x2="407.22" y2="194.1" stroke="#ffe8e8" stroke-width="1"/>
<line x1="356.4" y1="66.25" x2="541.9" y2="66.25" stroke="#ffe8e8" stroke-width="1"/>
<line x1="423.99" y1="18.0" x2="423.99" y2="194.1" stroke="#ffe8e8" stroke-width="1"/>
<line x1="356.4" y1="82.17" x2="541.9" y2="82.17" stroke="#ffe8e8" stroke-width="1"/>
<line x1="440.76" y1="18.0" x2="440.76" y2="194.1" stroke="#ffe8e8" stroke-width="1"/>
<line x1="356.4" y1="98.09" x2="541.9" y2="98.09" stroke="#ffe8e8" stroke-width="1"/>
<line x1="457.54" y1="18.0" x2="457.54" y2="194.1" stroke="#ffe8e8" stroke-width="1"/>
<line x1="356.4" y1="114.01" x2="541.9" y2="114.01" stroke="#ffe8e8" stroke-width="1"/>
<line x1="474.31" y1="18.0" x2="474.31" y2="194.1" stroke="#ffe8e8" stroke-width="1"/>
<line x1="356.4" y1="129.93" x2="541.9" y2="129.93" stroke="#ffe8e8" stroke-width="1"/>
<line x1="491.08" y1="18.0" x2="491.08" y2="194.1" stroke="#ffe8e8" stroke-width="1"/>
<line x1="356.4" y1="145.85" x2="541.9" y2="145.85" stroke="#ffe8e8" stroke-width="1"/>
<line x1="507.85" y1="18.0" x2="507.85" y2="194.1" stroke="#ffe8e8" stroke-width="1"/>
<line x1="356.4" y1="161.76" x2="541.9" y2="161.76" stroke="#ffe8e8" stroke-width="1"/>
<line x1="524.63" y1="18.0" x2="524.63" y2="194.1" stroke="#ffe8e8" stroke-width="1"/>
<line x1="356.4" y1="177.68" x2="541.9" y2="177.68" stroke="#ffe8e8" stroke-width="1"/>
<line x1="356.90" y1="18.0" x2="356.90" y2="194.1" stroke="#ffffff" stroke-width="1"/>
<line x1="356.4" y1="18.50" x2="541.9" y2="18.50" stroke="#ffffff" stroke-width="1"/>
<line x1="541.40" y1="18.0" x2="541.40" y2="194.1" stroke="#ffffff" stroke-width="1"/>
<line x1="356.4" y1="193.60" x2="541.9" y2="193.60" stroke="#ffffff" stroke-width="1"/>
<text transform="translate(365.39,29.56) rotate(0.03) scale(0.91,1)" text-anchor="middle" font-family="Liberation Sans, sans-serif" font-weight="bold" font-size="10.7" fill="#ffffff" stroke="#ffffff" stroke-width="0.12">72</text>
<text transform="translate(382.16,29.56) rotate(0.03) scale(0.91,1)" text-anchor="middle" font-family="Liberation Sans, sans-serif" font-weight="bold" font-size="10.7" fill="#ffffff" stroke="#ffffff" stroke-width="0.12">1</text>
<text transform="translate(398.93,29.56) rotate(0.03) scale(0.91,1)" text-anchor="middle" font-family="Liberation Sans, sans-serif" font-weight="bold" font-size="10.7" fill="#ffffff" stroke="#ffffff" stroke-width="0.12">0</text>
<text transform="translate(415.70,29.56) rotate(0.03) scale(0.91,1)" text-anchor="middle" font-family="Liberation Sans, sans-serif" font-weight="bold" font-size="10.7" fill="#ffffff" stroke="#ffffff" stroke-width="0.12">0</text>
<text transform="translate(432.48,29.56) rotate(0.03) scale(0.91,1)" text-anchor="middle" font-family="Liberation Sans, sans-serif" font-weight="bold" font-size="10.7" fill="#ffffff" stroke="#ffffff" stroke-width="0.12">0</text>
<text transform="translate(449.25,29.56) rotate(0.03) scale(0.91,1)" text-anchor="middle" font-family="Liberation Sans, sans-serif" font-weight="bold" font-size="10.7" fill="#ffffff" stroke="#ffffff" stroke-width="0.12">0</text>
<text transform="translate(466.02,29.56) rotate(0.03) scale(0.91,1)" text-anchor="middle" font-family="Liberation Sans, sans-serif" font-weight="bold" font-size="10.7" fill="#ffffff" stroke="#ffffff" stroke-width="0.12">0</text>
<text transform="translate(482.80,29.56) rotate(0.03) scale(0.91,1)" text-anchor="middle" font-family="Liberation Sans, sans-serif" font-weight="bold" font-size="10.7" fill="#ffffff" stroke="#ffffff" stroke-width="0.12">0</text>
<text transform="translate(499.57,29.56) rotate(0.03) scale(0.91,1)" text-anchor="middle" font-family="Liberation Sans, sans-serif" font-weight="bold" font-size="10.7" fill="#ffffff" stroke="#ffffff" stroke-width="0.12">0</text>
<text transform="translate(516.34,29.56) rotate(0.03) scale(0.91,1)" text-anchor="middle" font-family="Liberation Sans, sans-serif" font-weight="bold" font-size="10.7" fill="#ffffff" stroke="#ffffff" stroke-width="0.12">1</text>
<text transform="translate(533.11,29.56) rotate(0.03) scale(0.91,1)" text-anchor="middle" font-family="Liberation Sans, sans-serif" font-weight="bold" font-size="10.7" fill="#ffffff" stroke="#ffffff" stroke-width="0.12">0</text>
<text transform="translate(365.39,45.48) rotate(0.03) scale(0.91,1)" text-anchor="middle" font-family="Liberation Sans, sans-serif" font-weight="bold" font-size="10.7" fill="#ffffff" stroke="#ffffff" stroke-width="0.12">0</text>
<text transform="translate(382.16,45.48) rotate(0.03) scale(0.91,1)" text-anchor="middle" font-family="Liberation Sans, sans-serif" font-weight="bold" font-size="10.7" fill="#262626" stroke="#262626" stroke-width="0.12">61</text>
<text transform="translate(398.93,45.48) rotate(0.03) scale(0.91,1)" text-anchor="middle" font-family="Liberation Sans, sans-serif" font-weight="bold" font-size="10.7" fill="#ffffff" stroke="#ffffff" stroke-width="0.12">1</text>
<text transform="translate(415.70,45.48) rotate(0.03) scale(0.91,1)" text-anchor="middle" font-family="Liberation Sans, sans-serif" font-weight="bold" font-size="10.7" fill="#ffffff" stroke="#ffffff" stroke-width="0.12">0</text>
<text transform="translate(432.48,45.48) rotate(0.03) scale(0.91,1)" text-anchor="middle" font-family="Liberation Sans, sans-serif" font-weight="bold" font-size="10.7" fill="#ffffff" stroke="#ffffff" stroke-width="0.12">0</text>
<text transform="translate(449.25,45.48) rotate(0.03) scale(0.91,1)" text-anchor="middle" font-family="Liberation Sans, sans-serif" font-weight="bold" font-size="10.7" fill="#ffffff" stroke="#ffffff" stroke-width="0.12">0</text>
<text transform="translate(466.02,45.48) rotate(0.03) scale(0.91,1)" text-anchor="middle" font-family="Liberation Sans, sans-serif" font-weight="bold" font-size="10.7" fill="#ffffff" stroke="#ffffff" stroke-width="0.12">0</text>
<text transform="translate(482.80,45.48) rotate(0.03) scale(0.91,1)" text-anchor="middle" font-family="Liberation Sans, sans-serif" font-weight="bold" font-size="10.7" fill="#ffffff" stroke="#ffffff" stroke-width="0.12">2</text>
<text transform="translate(499.57,45.48) rotate(0.03) scale(0.91,1)" text-anchor="middle" font-family="Liberation Sans, sans-serif" font-weight="bold" font-size="10.7" fill="#ffffff" stroke="#ffffff" stroke-width="0.12">0</text>
<text transform="translate(516.34,45.48) rotate(0.03) scale(0.91,1)" text-anchor="middle" font-family="Liberation Sans, sans-serif" font-weight="bold" font-size="10.7" fill="#ffffff" stroke="#ffffff" stroke-width="0.12">1</text>
<text transform="translate(533.11,45.48) rotate(0.03) scale(0.91,1)" text-anchor="middle" font-family="Liberation Sans, sans-serif" font-weight="bold" font-size="10.7" fill="#ffffff" stroke="#ffffff" stroke-width="0.12">0</text>
<text transform="translate(365.39,61.40) rotate(0.03) scale(0.91,1)" text-anchor="middle" font-family="Liberation Sans, sans-serif" font-weight="bold" font-size="10.7" fill="#ffffff" stroke="#ffffff" stroke-width="0.12">0</text>
<text transform="translate(382.16,61.40) rotate(0.03) scale(0.91,1)" text-anchor="middle" font-family="Liberation Sans, sans-serif" font-weight="bold" font-size="10.7" fill="#ffffff" stroke="#ffffff" stroke-width="0.12">0</text>
<text transform="translate(398.93,61.40) rotate(0.03) scale(0.91,1)" text-anchor="middle" font-family="Liberation Sans, sans-serif" font-weight="bold" font-size="10.7" fill="#ffffff" stroke="#ffffff" stroke-width="0.12">79</text>
<text transform="translate(415.70,61.40) rotate(0.03) scale(0.91,1)" text-anchor="middle" font-family="Liberation Sans, sans-serif" font-weight="bold" font-size="10.7" fill="#ffffff" stroke="#ffffff" stroke-width="0.12">0</text>
<text transform="translate(432.48,61.40) rotate(0.03) scale(0.91,1)" text-anchor="middle" font-family="Liberation Sans, sans-serif" font-weight="bold" font-size="10.7" fill="#ffffff" stroke="#ffffff" stroke-width="0.12">0</text>
<text transform="translate(449.25,61.40) rotate(0.03) scale(0.91,1)" text-anchor="middle" font-family="Liberation Sans, sans-serif" font-weight="bold" font-size="10.7" fill="#ffffff" stroke="#ffffff" stroke-width="0.12">0</text>
<text transform="translate(466.02,61.40) rotate(0.03) scale(0.91,1)" text-anchor="middle" font-family="Liberation Sans, sans-serif" font-weight="bold" font-size="10.7" fill="#ffffff" stroke="#ffffff" stroke-width="0.12">0</text>
<text transform="translate(482.80,61.40) rotate(0.03) scale(0.91,1)" text-anchor="middle" font-family="Liberation Sans, sans-serif" font-weight="bold" font-size="10.7" fill="#ffffff" stroke="#ffffff" stroke-width="0.12">1</text>
<text transform="translate(499.57,61.40) rotate(0.03) scale(0.91,1)" text-anchor="middle" font-family="Liberation Sans, sans-serif" font-weight="bold" font-size="10.7" fill="#ffffff" stroke="#ffffff" stroke-width="0.12">1</text>
<text transform="translate(516.34,61.40) rotate(0.03) scale(0.91,1)" text-anchor="middle" font-family="Liberation Sans, sans-serif" font-weight="bold" font-size="10.7" fill="#ffffff" stroke="#ffffff" stroke-width="0.12">0</text>
<text transform="translate(533.11,61.40) rotate(0.03) scale(0.91,1)" text-anchor="middle" font-family="Liberation Sans, sans-serif" font-weight="bold" font-size="10.7" fill="#ffffff" stroke="#ffffff" stroke-width="0.12">0</text>
<text transform="translate(365.39,77.31) rotate(0.03) scale(0.91,1)" text-anchor="middle" font-family="Liberation Sans, sans-serif" font-weight="bold" font-size="10.7" fill="#ffffff" stroke="#ffffff" stroke-width="0.12">2</text>
<text transform="translate(382.16,77.31) rotate(0.03) scale(0.91,1)" text-anchor="middle" font-family="Liberation Sans, sans-serif" font-weight="bold" font-size="10.7" fill="#ffffff" stroke="#ffffff" stroke-width="0.12">0</text>
<text transform="translate(398.93,77.31) rotate(0.03) scale(0.91,1)" text-anchor="middle" font-family="Liberation Sans, sans-serif" font-weight="bold" font-size="10.7" fill="#ffffff" stroke="#ffffff" stroke-width="0.12">1</text>
<text transform="translate(415.70,77.31) rotate(0.03) scale(0.91,1)" text-anchor="middle" font-family="Liberation Sans, sans-serif" font-weight="bold" font-size="10.7" fill="#ffffff" stroke="#ffffff" stroke-width="0.12">67</text>
<text transform="translate(432.48,77.31) rotate(0.03) scale(0.91,1)" text-anchor="middle" font-family="Liberation Sans, sans-serif" font-weight="bold" font-size="10.7" fill="#ffffff" stroke="#ffffff" stroke-width="0.12">0</text>
<text transform="translate(449.25,77.31) rotate(0.03) scale(0.91,1)" text-anchor="middle" font-family="Liberation Sans, sans-serif" font-weight="bold" font-size="10.7" fill="#ffffff" stroke="#ffffff" stroke-width="0.12">1</text>
<text transform="translate(466.02,77.31) rotate(0.03) scale(0.91,1)" text-anchor="middle" font-family="Liberation Sans, sans-serif" font-weight="bold" font-size="10.7" fill="#ffffff" stroke="#ffffff" stroke-width="0.12">0</text>
<text transform="translate(482.80,77.31) rotate(0.03) scale(0.91,1)" text-anchor="middle" font-family="Liberation Sans, sans-serif" font-weight="bold" font-size="10.7" fill="#ffffff" stroke="#ffffff" stroke-width="0.12">0</text>
<text transform="translate(499.57,77.31) rotate(0.03) scale(0.91,1)" text-anchor="middle" font-family="Liberation Sans, sans-serif" font-weight="bold" font-size="10.7" fill="#ffffff" stroke="#ffffff" stroke-width="0.12">0</text>
<text transform="translate(516.34,77.31) rotate(0.03) scale(0.91,1)" text-anchor="middle" font-family="Liberation Sans, sans-serif" font-weight="bold" font-size="10.7" fill="#ffffff" stroke="#ffffff" stroke-width="0.12">1</text>
<text transform="translate(533.11,77.31) rotate(0.03) scale(0.91,1)" text-anchor="middle" font-family="Liberation Sans, sans-serif" font-weight="bold" font-size="10.7" fill="#ffffff" stroke="#ffffff" stroke-width="0.12">0</text>
<text transform="translate(365.39,93.23) rotate(0.03) scale(0.91,1)" text-anchor="middle" font-family="Liberation Sans, sans-serif" font-weight="bold" font-size="10.7" fill="#ffffff" stroke="#ffffff" stroke-width="0.12">0</text>
<text transform="translate(382.16,93.23) rotate(0.03) scale(0.91,1)" text-anchor="middle" font-family="Liberation Sans, sans-serif" font-weight="bold" font-size="10.7" fill="#ffffff" stroke="#ffffff" stroke-width="0.12">0</text>
<text transform="translate(398.93,93.23) rotate(0.03) scale(0.91,1)" text-anchor="middle" font-family="Liberation Sans, sans-serif" font-weight="bold" font-size="10.7" fill="#ffffff" stroke="#ffffff" stroke-width="0.12">0</text>
<text transform="translate(415.70,93.23) rotate(0.03) scale(0.91,1)" text-anchor="middle" font-family="Liberation Sans, sans-serif" font-weight="bold" font-size="10.7" fill="#ffffff" stroke="#ffffff" stroke-width="0.12">0</text>
<text transform="translate(432.48,93.23) rotate(0.03) scale(0.91,1)" text-anchor="middle" font-family="Liberation Sans, sans-serif" font-weight="bold" font-size="10.7" fill="#ffffff" stroke="#ffffff" stroke-width="0.12">68</text>
<text transform="translate(449.25,93.23) rotate(0.03) scale(0.91,1)" text-anchor="middle" font-family="Liberation Sans, sans-serif" font-weight="bold" font-size="10.7" fill="#ffffff" stroke="#ffffff" stroke-width="0.12">0</text>
<text transform="translate(466.02,93.23) rotate(0.03) scale(0.91,1)" text-anchor="middle" font-family="Liberation Sans, sans-serif" font-weight="bold" font-size="10.7" fill="#ffffff" stroke="#ffffff" stroke-width="0.12">2</text>
<text transform="translate(482.80,93.23) rotate(0.03) scale(0.91,1)" text-anchor="middle" font-family="Liberation Sans, sans-serif" font-weight="bold" font-size="10.7" fill="#ffffff" stroke="#ffffff" stroke-width="0.12">0</text>
<text transform="translate(499.57,93.23) rotate(0.03) scale(0.91,1)" text-anchor="middle" font-family="Liberation Sans, sans-serif" font-weight="bold" font-size="10.7" fill="#ffffff" stroke="#ffffff" stroke-width="0.12">0</text>
<text transform="translate(516.34,93.23) rotate(0.03) scale(0.91,1)" text-anchor="middle" font-family="Liberation Sans, sans-serif" font-weight="bold" font-size="10.7" fill="#ffffff" stroke="#ffffff" stroke-width="0.12">0</text>
<text transform="translate(533.11,93.23) rotate(0.03) scale(0.91,1)" text-anchor="middle" font-family="Liberation Sans, sans-serif" font-weight="bold" font-size="10.7" fill="#ffffff" stroke="#ffffff" stroke-width="0.12">0</text>
<text transform="translate(365.39,109.15) rotate(0.03) scale(0.91,1)" text-anchor="middle" font-family="Liberation Sans, sans-serif" font-weight="bold" font-size="10.7" fill="#ffffff" stroke="#ffffff" stroke-width="0.12">0</text>
<text transform="translate(382.16,109.15) rotate(0.03) scale(0.91,1)" text-anchor="middle" font-family="Liberation Sans, sans-serif" font-weight="bold" font-size="10.7" fill="#ffffff" stroke="#ffffff" stroke-width="0.12">0</text>
<text transform="translate(398.93,109.15) rotate(0.03) scale(0.91,1)" text-anchor="middle" font-family="Liberation Sans, sans-serif" font-weight="bold" font-size="10.7" fill="#ffffff" stroke="#ffffff" stroke-width="0.12">2</text>
<text transform="translate(415.70,109.15) rotate(0.03) scale(0.91,1)" text-anchor="middle" font-family="Liberation Sans, sans-serif" font-weight="bold" font-size="10.7" fill="#ffffff" stroke="#ffffff" stroke-width="0.12">0</text>
<text transform="translate(432.48,109.15) rotate(0.03) scale(0.91,1)" text-anchor="middle" font-family="Liberation Sans, sans-serif" font-weight="bold" font-size="10.7" fill="#ffffff" stroke="#ffffff" stroke-width="0.12">0</text>
<text transform="translate(449.25,109.15) rotate(0.03) scale(0.91,1)" text-anchor="middle" font-family="Liberation Sans, sans-serif" font-weight="bold" font-size="10.7" fill="#ffffff" stroke="#ffffff" stroke-width="0.12">82</text>
<text transform="translate(466.02,109.15) rotate(0.03) scale(0.91,1)" text-anchor="middle" font-family="Liberation Sans, sans-serif" font-weight="bold" font-size="10.7" fill="#ffffff" stroke="#ffffff" stroke-width="0.12">0</text>
<text transform="translate(482.80,109.15) rotate(0.03) scale(0.91,1)" text-anchor="middle" font-family="Liberation Sans, sans-serif" font-weight="bold" font-size="10.7" fill="#ffffff" stroke="#ffffff" stroke-width="0.12">0</text>
<text transform="translate(499.57,109.15) rotate(0.03) scale(0.91,1)" text-anchor="middle" font-family="Liberation Sans, sans-serif" font-weight="bold" font-size="10.7" fill="#ffffff" stroke="#ffffff" stroke-width="0.12">0</text>
<text transform="translate(516.34,109.15) rotate(0.03) scale(0.91,1)" text-anchor="middle" font-family="Liberation Sans, sans-serif" font-weight="bold" font-size="10.7" fill="#ffffff" stroke="#ffffff" stroke-width="0.12">0</text>
<text transform="translate(533.11,109.15) rotate(0.03) scale(0.91,1)" text-anchor="middle" font-family="Liberation Sans, sans-serif" font-weight="bold" font-size="10.7" fill="#ffffff" stroke="#ffffff" stroke-width="0.12">0</text>
<text transform="translate(365.39,125.07) rotate(0.03) scale(0.91,1)" text-anchor="middle" font-family="Liberation Sans, sans-serif" font-weight="bold" font-size="10.7" fill="#ffffff" stroke="#ffffff" stroke-width="0.12">0</text>
<text transform="translate(382.16,125.07) rotate(0.03) scale(0.91,1)" text-anchor="middle" font-family="Liberation Sans, sans-serif" font-weight="bold" font-size="10.7" fill="#ffffff" stroke="#ffffff" stroke-width="0.12">0</text>
<text transform="translate(398.93,125.07) rotate(0.03) scale(0.91,1)" text-anchor="middle" font-family="Liberation Sans, sans-serif" font-weight="bold" font-size="10.7" fill="#ffffff" stroke="#ffffff" stroke-width="0.12">0</text>
<text transform="translate(415.70,125.07) rotate(0.03) scale(0.91,1)" text-anchor="middle" font-family="Liberation Sans, sans-serif" font-weight="bold" font-size="10.7" fill="#ffffff" stroke="#ffffff" stroke-width="0.12">0</text>
<text transform="translate(432.48,125.07) rotate(0.03) scale(0.91,1)" text-anchor="middle" font-family="Liberation Sans, sans-serif" font-weight="bold" font-size="10.7" fill="#ffffff" stroke="#ffffff" stroke-width="0.12">0</text>
<text transform="translate(449.25,125.07) rotate(0.03) scale(0.91,1)" text-anchor="middle" font-family="Liberation Sans, sans-serif" font-weight="bold" font-size="10.7" fill="#ffffff" stroke="#ffffff" stroke-width="0.12">1</text>
<text transform="translate(466.02,125.07) rotate(0.03) scale(0.91,1)" text-anchor="middle" font-family="Liberation Sans, sans-serif" font-weight="bold" font-size="10.7" fill="#262626" stroke="#262626" stroke-width="0.12">59</text>
<text transform="translate(482.80,125.07) rotate(0.03) scale(0.91,1)" text-anchor="middle" font-family="Liberation Sans, sans-serif" font-weight="bold" font-size="10.7" fill="#ffffff" stroke="#ffffff" stroke-width="0.12">0</text>
<text transform="translate(499.57,125.07) rotate(0.03) scale(0.91,1)" text-anchor="middle" font-family="Liberation Sans, sans-serif" font-weight="bold" font-size="10.7" fill="#ffffff" stroke="#ffffff" stroke-width="0.12">0</text>
<text transform="translate(516.34,125.07) rotate(0.03) scale(0.91,1)" text-anchor="middle" font-family="Liberation Sans, sans-serif" font-weight="bold" font-size="10.7" fill="#ffffff" stroke="#ffffff" stroke-width="0.12">0</text>
<text transform="translate(533.11,125.07) rotate(0.03) scale(0.91,1)" text-anchor="middle" font-family="Liberation Sans, sans-serif" font-weight="bold" font-size="10.7" fill="#ffffff" stroke="#ffffff" stroke-width="0.12">0</text>
<text transform="translate(365.39,140.99) rotate(0.03) scale(0.91,1)" text-anchor="middle" font-family="Liberation Sans, sans-serif" font-weight="bold" font-size="10.7" fill="#ffffff" stroke="#ffffff" stroke-width="0.12">0</text>
<text transform="translate(382.16,140.99) rotate(0.03) scale(0.91,1)" text-anchor="middle" font-family="Liberation Sans, sans-serif" font-weight="bold" font-size="10.7" fill="#ffffff" stroke="#ffffff" stroke-width="0.12">0</text>
<text transform="translate(398.93,140.99) rotate(0.03) scale(0.91,1)" text-anchor="middle" font-family="Liberation Sans, sans-serif" font-weight="bold" font-size="10.7" fill="#ffffff" stroke="#ffffff" stroke-width="0.12">0</text>
<text transform="translate(415.70,140.99) rotate(0.03) scale(0.91,1)" text-anchor="middle" font-family="Liberation Sans, sans-serif" font-weight="bold" font-size="10.7" fill="#ffffff" stroke="#ffffff" stroke-width="0.12">1</text>
<text transform="translate(432.48,140.99) rotate(0.03) scale(0.91,1)" text-anchor="middle" font-family="Liberation Sans, sans-serif" font-weight="bold" font-size="10.7" fill="#ffffff" stroke="#ffffff" stroke-width="0.12">0</text>
<text transform="translate(449.25,140.99) rotate(0.03) scale(0.91,1)" text-anchor="middle" font-family="Liberation Sans, sans-serif" font-weight="bold" font-size="10.7" fill="#ffffff" stroke="#ffffff" stroke-width="0.12">0</text>
<text transform="translate(466.02,140.99) rotate(0.03) scale(0.91,1)" text-anchor="middle" font-family="Liberation Sans, sans-serif" font-weight="bold" font-size="10.7" fill="#ffffff" stroke="#ffffff" stroke-width="0.12">0</text>
<text transform="translate(482.80,140.99) rotate(0.03) scale(0.91,1)" text-anchor="middle" font-family="Liberation Sans, sans-serif" font-weight="bold" font-size="10.7" fill="#ffffff" stroke="#ffffff" stroke-width="0.12">73</text>
<text transform="translate(499.57,140.99) rotate(0.03) scale(0.91,1)" text-anchor="middle" font-family="Liberation Sans, sans-serif" font-weight="bold" font-size="10.7" fill="#ffffff" stroke="#ffffff" stroke-width="0.12">0</text>
<text transform="translate(516.34,140.99) rotate(0.03) scale(0.91,1)" text-anchor="middle" font-family="Liberation Sans, sans-serif" font-weight="bold" font-size="10.7" fill="#ffffff" stroke="#ffffff" stroke-width="0.12">1</text>
<text transform="translate(533.11,140.99) rotate(0.03) scale(0.91,1)" text-anchor="middle" font-family="Liberation Sans, sans-serif" font-weight="bold" font-size="10.7" fill="#ffffff" stroke="#ffffff" stroke-width="0.12">0</text>
<text transform="translate(365.39,156.90) rotate(0.03) scale(0.91,1)" text-anchor="middle" font-family="Liberation Sans, sans-serif" font-weight="bold" font-size="10.7" fill="#ffffff" stroke="#ffffff" stroke-width="0.12">0</text>
<text transform="translate(382.16,156.90) rotate(0.03) scale(0.91,1)" text-anchor="middle" font-family="Liberation Sans, sans-serif" font-weight="bold" font-size="10.7" fill="#ffffff" stroke="#ffffff" stroke-width="0.12">0</text>
<text transform="translate(398.93,156.90) rotate(0.03) scale(0.91,1)" text-anchor="middle" font-family="Liberation Sans, sans-serif" font-weight="bold" font-size="10.7" fill="#ffffff" stroke="#ffffff" stroke-width="0.12">0</text>
<text transform="translate(415.70,156.90) rotate(0.03) scale(0.91,1)" text-anchor="middle" font-family="Liberation Sans, sans-serif" font-weight="bold" font-size="10.7" fill="#ffffff" stroke="#ffffff" stroke-width="0.12">0</text>
<text transform="translate(432.48,156.90) rotate(0.03) scale(0.91,1)" text-anchor="middle" font-family="Liberation Sans, sans-serif" font-weight="bold" font-size="10.7" fill="#ffffff" stroke="#ffffff" stroke-width="0.12">0</text>
<text transform="translate(449.25,156.90) rotate(0.03) scale(0.91,1)" text-anchor="middle" font-family="Liberation Sans, sans-serif" font-weight="bold" font-size="10.7" fill="#ffffff" stroke="#ffffff" stroke-width="0.12">1</text>
<text transform="translate(466.02,156.90) rotate(0.03) scale(0.91,1)" text-anchor="middle" font-family="Liberation Sans, sans-serif" font-weight="bold" font-size="10.7" fill="#ffffff" stroke="#ffffff" stroke-width="0.12">0</text>
<text transform="translate(482.80,156.90) rotate(0.03) scale(0.91,1)" text-anchor="middle" font-family="Liberation Sans, sans-serif" font-weight="bold" font-size="10.7" fill="#ffffff" stroke="#ffffff" stroke-width="0.12">0</text>
<text transform="translate(499.57,156.90) rotate(0.03) scale(0.91,1)" text-anchor="middle" font-family="Liberation Sans, sans-serif" font-weight="bold" font-size="10.7" fill="#ffffff" stroke="#ffffff" stroke-width="0.12">81</text>
<text transform="translate(516.34,156.90) rotate(0.03) scale(0.91,1)" text-anchor="middle" font-family="Liberation Sans, sans-serif" font-weight="bold" font-size="10.7" fill="#ffffff" stroke="#ffffff" stroke-width="0.12">0</text>
<text transform="translate(533.11,156.90) rotate(0.03) scale(0.91,1)" text-anchor="middle" font-family="Liberation Sans, sans-serif" font-weight="bold" font-size="10.7" fill="#ffffff" stroke="#ffffff" stroke-width="0.12">0</text>
<text transform="translate(365.39,172.82) rotate(0.03) scale(0.91,1)" text-anchor="middle" font-family="Liberation Sans, sans-serif" font-weight="bold" font-size="10.7" fill="#ffffff" stroke="#ffffff" stroke-width="0.12">0</text>
<text transform="translate(382.16,172.82) rotate(0.03) scale(0.91,1)" text-anchor="middle" font-family="Liberation Sans, sans-serif" font-weight="bold" font-size="10.7" fill="#ffffff" stroke="#ffffff" stroke-width="0.12">0</text>
<text transform="translate(398.93,172.82) rotate(0.03) scale(0.91,1)" text-anchor="middle" font-family="Liberation Sans, sans-serif" font-weight="bold" font-size="10.7" fill="#ffffff" stroke="#ffffff" stroke-width="0.12">1</text>
<text transform="translate(415.70,172.82) rotate(0.03) scale(0.91,1)" text-anchor="middle" font-family="Liberation Sans, sans-serif" font-weight="bold" font-size="10.7" fill="#ffffff" stroke="#ffffff" stroke-width="0.12">0</text>
<text transform="translate(432.48,172.82) rotate(0.03) scale(0.91,1)" text-anchor="middle" font-family="Liberation Sans, sans-serif" font-weight="bold" font-size="10.7" fill="#ffffff" stroke="#ffffff" stroke-width="0.12">0</text>
<text transform="translate(449.25,172.82) rotate(0.03) scale(0.91,1)" text-anchor="middle" font-family="Liberation Sans, sans-serif" font-weight="bold" font-size="10.7" fill="#ffffff" stroke="#ffffff" stroke-width="0.12">0</text>
<text transform="translate(466.02,172.82) rotate(0.03) scale(0.91,1)" text-anchor="middle" font-family="Liberation Sans, sans-serif" font-weight="bold" font-size="10.7" fill="#ffffff" stroke="#ffffff" stroke-width="0.12">0</text>
<text transform="translate(482.80,172.82) rotate(0.03) scale(0.91,1)" text-anchor="middle" font-family="Liberation Sans, sans-serif" font-weight="bold" font-size="10.7" fill="#ffffff" stroke="#ffffff" stroke-width="0.12">0</text>
<text transform="translate(499.57,172.82) rotate(0.03) scale(0.91,1)" text-anchor="middle" font-family="Liberation Sans, sans-serif" font-weight="bold" font-size="10.7" fill="#ffffff" stroke="#ffffff" stroke-width="0.12">0</text>
<text transform="translate(516.34,172.82) rotate(0.03) scale(0.91,1)" text-anchor="middle" font-family="Liberation Sans, sans-serif" font-weight="bold" font-size="10.7" fill="#ffffff" stroke="#ffffff" stroke-width="0.12">86</text>
<text transform="translate(533.11,172.82) rotate(0.03) scale(0.91,1)" text-anchor="middle" font-family="Liberation Sans, sans-serif" font-weight="bold" font-size="10.7" fill="#ffffff" stroke="#ffffff" stroke-width="0.12">0</text>
<text transform="translate(365.39,188.74) rotate(0.03) scale(0.91,1)" text-anchor="middle" font-family="Liberation Sans, sans-serif" font-weight="bold" font-size="10.7" fill="#ffffff" stroke="#ffffff" stroke-width="0.12">0</text>
<text transform="translate(382.16,188.74) rotate(0.03) scale(0.91,1)" text-anchor="middle" font-family="Liberation Sans, sans-serif" font-weight="bold" font-size="10.7" fill="#ffffff" stroke="#ffffff" stroke-width="0.12">0</text>
<text transform="translate(398.93,188.74) rotate(0.03) scale(0.91,1)" text-anchor="middle" font-family="Liberation Sans, sans-serif" font-weight="bold" font-size="10.7" fill="#ffffff" stroke="#ffffff" stroke-width="0.12">1</text>
<text transform="translate(415.70,188.74) rotate(0.03) scale(0.91,1)" text-anchor="middle" font-family="Liberation Sans, sans-serif" font-weight="bold" font-size="10.7" fill="#ffffff" stroke="#ffffff" stroke-width="0.12">0</text>
<text transform="translate(432.48,188.74) rotate(0.03) scale(0.91,1)" text-anchor="middle" font-family="Liberation Sans, sans-serif" font-weight="bold" font-size="10.7" fill="#ffffff" stroke="#ffffff" stroke-width="0.12">0</text>
<text transform="translate(449.25,188.74) rotate(0.03) scale(0.91,1)" text-anchor="middle" font-family="Liberation Sans, sans-serif" font-weight="bold" font-size="10.7" fill="#ffffff" stroke="#ffffff" stroke-width="0.12">0</text>
<text transform="translate(466.02,188.74) rotate(0.03) scale(0.91,1)" text-anchor="middle" font-family="Liberation Sans, sans-serif" font-weight="bold" font-size="10.7" fill="#ffffff" stroke="#ffffff" stroke-width="0.12">0</text>
<text transform="translate(482.80,188.74) rotate(0.03) scale(0.91,1)" text-anchor="middle" font-family="Liberation Sans, sans-serif" font-weight="bold" font-size="10.7" fill="#ffffff" stroke="#ffffff" stroke-width="0.12">0</text>
<text transform="translate(499.57,188.74) rotate(0.03) scale(0.91,1)" text-anchor="middle" font-family="Liberation Sans, sans-serif" font-weight="bold" font-size="10.7" fill="#ffffff" stroke="#ffffff" stroke-width="0.12">0</text>
<text transform="translate(516.34,188.74) rotate(0.03) scale(0.91,1)" text-anchor="middle" font-family="Liberation Sans, sans-serif" font-weight="bold" font-size="10.7" fill="#ffffff" stroke="#ffffff" stroke-width="0.12">2</text>
<text transform="translate(533.11,188.74) rotate(0.03) scale(0.91,1)" text-anchor="middle" font-family="Liberation Sans, sans-serif" font-weight="bold" font-size="10.7" fill="#ffffff" stroke="#ffffff" stroke-width="0.12">72</text>
<line x1="355.4" y1="26.46" x2="357.4" y2="26.46" stroke="#999" stroke-width="0.5"/>
<line x1="365.29" y1="193.1" x2="365.29" y2="195.1" stroke="#999" stroke-width="0.5"/>
<text x="352.60" y="28.61" text-anchor="end" font-family="Liberation Sans, sans-serif" font-weight="bold" font-size="7.4" fill="#262626">Optimistic</text>
<text transform="translate(367.29,198.00) rotate(-90)" text-anchor="end" font-family="Liberation Sans, sans-serif" font-weight="bold" font-size="7.1" fill="#262626" stroke="#262626" stroke-width="0.15">Optimistic</text>
<line x1="355.4" y1="42.38" x2="357.4" y2="42.38" stroke="#999" stroke-width="0.5"/>
<line x1="382.06" y1="193.1" x2="382.06" y2="195.1" stroke="#999" stroke-width="0.5"/>
<text x="352.60" y="44.53" text-anchor="end" font-family="Liberation Sans, sans-serif" font-weight="bold" font-size="7.4" fill="#262626">Thankful</text>
<text transform="translate(384.06,198.00) rotate(-90)" text-anchor="end" font-family="Liberation Sans, sans-serif" font-weight="bold" font-size="7.1" fill="#262626" stroke="#262626" stroke-width="0.15">Thankful</text>
<line x1="355.4" y1="58.30" x2="357.4" y2="58.30" stroke="#999" stroke-width="0.5"/>
<line x1="398.83" y1="193.1" x2="398.83" y2="195.1" stroke="#999" stroke-width="0.5"/>
<text x="352.60" y="60.45" text-anchor="end" font-family="Liberation Sans, sans-serif" font-weight="bold" font-size="7.4" fill="#262626">Empathetic</text>
<text transform="translate(400.83,198.00) rotate(-90)" text-anchor="end" font-family="Liberation Sans, sans-serif" font-weight="bold" font-size="7.1" fill="#262626" stroke="#262626" stroke-width="0.15">Empathetic</text>
<line x1="355.4" y1="74.21" x2="357.4" y2="74.21" stroke="#999" stroke-width="0.5"/>
<line x1="415.60" y1="193.1" x2="415.60" y2="195.1" stroke="#999" stroke-width="0.5"/>
<text x="352.60" y="76.36" text-anchor="end" font-family="Liberation Sans, sans-serif" font-weight="bold" font-size="7.4" fill="#262626">Pessimistic</text>
<text transform="translate(417.60,198.00) rotate(-90)" text-anchor="end" font-family="Liberation Sans, sans-serif" font-weight="bold" font-size="7.1" fill="#262626" stroke="#262626" stroke-width="0.15">Pessimistic</text>
<line x1="355.4" y1="90.13" x2="357.4" y2="90.13" stroke="#999" stroke-width="0.5"/>
<line x1="432.38" y1="193.1" x2="432.38" y2="195.1" stroke="#999" stroke-width="0.5"/>
<text x="352.60" y="92.28" text-anchor="end" font-family="Liberation Sans, sans-serif" font-weight="bold" font-size="7.4" fill="#262626">Anxious</text>
<text transform="translate(434.38,198.00) rotate(-90)" text-anchor="end" font-family="Liberation Sans, sans-serif" font-weight="bold" font-size="7.1" fill="#262626" stroke="#262626" stroke-width="0.15">Anxious</text>
<line x1="355.4" y1="106.05" x2="357.4" y2="106.05" stroke="#999" stroke-width="0.5"/>
<line x1="449.15" y1="193.1" x2="449.15" y2="195.1" stroke="#999" stroke-width="0.5"/>
<text x="352.60" y="108.20" text-anchor="end" font-family="Liberation Sans, sans-serif" font-weight="bold" font-size="7.4" fill="#262626">Sad</text>
<text transform="translate(451.15,198.00) rotate(-90)" text-anchor="end" font-family="Liberation Sans, sans-serif" font-weight="bold" font-size="7.1" fill="#262626" stroke="#262626" stroke-width="0.15">Sad</text>
<line x1="355.4" y1="121.97" x2="357.4" y2="121.97" stroke="#999" stroke-width="0.5"/>
<line x1="465.92" y1="193.1" x2="465.92" y2="195.1" stroke="#999" stroke-width="0.5"/>
<text x="352.60" y="124.12" text-anchor="end" font-family="Liberation Sans, sans-serif" font-weight="bold" font-size="7.4" fill="#262626">Annoyed</text>
<text transform="translate(467.92,198.00) rotate(-90)" text-anchor="end" font-family="Liberation Sans, sans-serif" font-weight="bold" font-size="7.1" fill="#262626" stroke="#262626" stroke-width="0.15">Annoyed</text>
<line x1="355.4" y1="137.89" x2="357.4" y2="137.89" stroke="#999" stroke-width="0.5"/>
<line x1="482.70" y1="193.1" x2="482.70" y2="195.1" stroke="#999" stroke-width="0.5"/>
<text x="352.60" y="140.04" text-anchor="end" font-family="Liberation Sans, sans-serif" font-weight="bold" font-size="7.4" fill="#262626">Denial</text>
<text transform="translate(484.70,198.00) rotate(-90)" text-anchor="end" font-family="Liberation Sans, sans-serif" font-weight="bold" font-size="7.1" fill="#262626" stroke="#262626" stroke-width="0.15">Denial</text>
<line x1="355.4" y1="153.80" x2="357.4" y2="153.80" stroke="#999" stroke-width="0.5"/>
<line x1="499.47" y1="193.1" x2="499.47" y2="195.1" stroke="#999" stroke-width="0.5"/>
<text x="352.60" y="155.95" text-anchor="end" font-family="Liberation Sans, sans-serif" font-weight="bold" font-size="7.4" fill="#262626">Surprise</text>
<text transform="translate(501.47,198.00) rotate(-90)" text-anchor="end" font-family="Liberation Sans, sans-serif" font-weight="bold" font-size="7.1" fill="#262626" stroke="#262626" stroke-width="0.15">Surprise</text>
<line x1="355.4" y1="169.72" x2="357.4" y2="169.72" stroke="#999" stroke-width="0.5"/>
<line x1="516.24" y1="193.1" x2="516.24" y2="195.1" stroke="#999" stroke-width="0.5"/>
<text x="352.60" y="171.87" text-anchor="end" font-family="Liberation Sans, sans-serif" font-weight="bold" font-size="7.4" fill="#262626">Official report</text>
<text transform="translate(518.24,198.00) rotate(-90)" text-anchor="end" font-family="Liberation Sans, sans-serif" font-weight="bold" font-size="7.1" fill="#262626" stroke="#262626" stroke-width="0.15">Official report</text>
<line x1="355.4" y1="185.64" x2="357.4" y2="185.64" stroke="#999" stroke-width="0.5"/>
<line x1="533.01" y1="193.1" x2="533.01" y2="195.1" stroke="#999" stroke-width="0.5"/>
<text x="352.60" y="187.79" text-anchor="end" font-family="Liberation Sans, sans-serif" font-weight="bold" font-size="7.4" fill="#262626">Joking</text>
<text transform="translate(535.01,198.00) rotate(-90)" text-anchor="end" font-family="Liberation Sans, sans-serif" font-weight="bold" font-size="7.1" fill="#262626" stroke="#262626" stroke-width="0.15">Joking</text>
<text transform="translate(293.9,106.25) rotate(-90)" text-anchor="middle" font-family="Liberation Sans, sans-serif" font-weight="bold" font-size="9.3" fill="#1c1c1c" stroke="#1c1c1c" stroke-width="0.2">Actual</text>
<text x="449.15" y="258.2" text-anchor="middle" font-family="Liberation Sans, sans-serif" font-weight="bold" font-size="9.9" fill="#1c1c1c" stroke="#1c1c1c" stroke-width="0.15">Predicted</text>
<text x="425.90" y="278.10" text-anchor="end" font-family="Liberation Sans, Noto Sans CJK SC, sans-serif" font-size="11.4" font-weight="bold" fill="#222" stroke="#222" stroke-width="0.25">（</text>
<text x="432.30" y="278.30" text-anchor="middle" font-family="Liberation Sans, Noto Sans CJK SC, sans-serif" font-size="13.5" fill="#222" stroke="#222" stroke-width="0.5">b</text>
<text x="438.80" y="278.10" text-anchor="start" font-family="Liberation Sans, Noto Sans CJK SC, sans-serif" font-size="11.4" font-weight="bold" fill="#222" stroke="#222" stroke-width="0.25">）</text>
</g>
<g>
<text x="151.75" y="292.2" text-anchor="middle" font-family="Liberation Sans, sans-serif" font-weight="bold" font-size="11.0" fill="#1c1c1c" stroke="#1c1c1c" stroke-width="0.12">Precision-Recall Curve</text>
<rect x="41.5" y="301.6" width="220.5" height="205.7" fill="#fff"/>
<line x1="42.60" y1="301.6" x2="42.60" y2="507.3" stroke="#d2d2d2" stroke-width="0.55" stroke-dasharray="0.6 0.7"/>
<line x1="42.60" y1="507.3" x2="42.60" y2="508.5" stroke="#555" stroke-width="0.4"/>
<line x1="41.5" y1="488.64" x2="262" y2="488.64" stroke="#d2d2d2" stroke-width="0.55" stroke-dasharray="0.6 0.7"/>
<line x1="40.3" y1="488.64" x2="41.5" y2="488.64" stroke="#555" stroke-width="0.4"/>
<line x1="53.60" y1="301.6" x2="53.60" y2="507.3" stroke="#d2d2d2" stroke-width="0.55" stroke-dasharray="0.6 0.7"/>
<line x1="53.60" y1="507.3" x2="53.60" y2="508.5" stroke="#555" stroke-width="0.4"/>
<line x1="41.5" y1="479.29" x2="262" y2="479.29" stroke="#d2d2d2" stroke-width="0.55" stroke-dasharray="0.6 0.7"/>
<line x1="40.3" y1="479.29" x2="41.5" y2="479.29" stroke="#555" stroke-width="0.4"/>
<line x1="64.60" y1="301.6" x2="64.60" y2="507.3" stroke="#d2d2d2" stroke-width="0.55" stroke-dasharray="0.6 0.7"/>
<line x1="64.60" y1="507.3" x2="64.60" y2="508.5" stroke="#555" stroke-width="0.4"/>
<line x1="41.5" y1="469.94" x2="262" y2="469.94" stroke="#d2d2d2" stroke-width="0.55" stroke-dasharray="0.6 0.7"/>
<line x1="40.3" y1="469.94" x2="41.5" y2="469.94" stroke="#555" stroke-width="0.4"/>
<line x1="86.60" y1="301.6" x2="86.60" y2="507.3" stroke="#d2d2d2" stroke-width="0.55" stroke-dasharray="0.6 0.7"/>
<line x1="86.60" y1="507.3" x2="86.60" y2="508.5" stroke="#555" stroke-width="0.4"/>
<line x1="41.5" y1="451.23" x2="262" y2="451.23" stroke="#d2d2d2" stroke-width="0.55" stroke-dasharray="0.6 0.7"/>
<line x1="40.3" y1="451.23" x2="41.5" y2="451.23" stroke="#555" stroke-width="0.4"/>
<line x1="97.60" y1="301.6" x2="97.60" y2="507.3" stroke="#d2d2d2" stroke-width="0.55" stroke-dasharray="0.6 0.7"/>
<line x1="97.60" y1="507.3" x2="97.60" y2="508.5" stroke="#555" stroke-width="0.4"/>
<line x1="41.5" y1="441.87" x2="262" y2="441.87" stroke="#d2d2d2" stroke-width="0.55" stroke-dasharray="0.6 0.7"/>
<line x1="40.3" y1="441.87" x2="41.5" y2="441.87" stroke="#555" stroke-width="0.4"/>
<line x1="108.60" y1="301.6" x2="108.60" y2="507.3" stroke="#d2d2d2" stroke-width="0.55" stroke-dasharray="0.6 0.7"/>
<line x1="108.60" y1="507.3" x2="108.60" y2="508.5" stroke="#555" stroke-width="0.4"/>
<line x1="41.5" y1="432.51" x2="262" y2="432.51" stroke="#d2d2d2" stroke-width="0.55" stroke-dasharray="0.6 0.7"/>
<line x1="40.3" y1="432.51" x2="41.5" y2="432.51" stroke="#555" stroke-width="0.4"/>
<line x1="130.60" y1="301.6" x2="130.60" y2="507.3" stroke="#d2d2d2" stroke-width="0.55" stroke-dasharray="0.6 0.7"/>
<line x1="130.60" y1="507.3" x2="130.60" y2="508.5" stroke="#555" stroke-width="0.4"/>
<line x1="41.5" y1="413.81" x2="262" y2="413.81" stroke="#d2d2d2" stroke-width="0.55" stroke-dasharray="0.6 0.7"/>
<line x1="40.3" y1="413.81" x2="41.5" y2="413.81" stroke="#555" stroke-width="0.4"/>
<line x1="141.60" y1="301.6" x2="141.60" y2="507.3" stroke="#d2d2d2" stroke-width="0.55" stroke-dasharray="0.6 0.7"/>
<line x1="141.60" y1="507.3" x2="141.60" y2="508.5" stroke="#555" stroke-width="0.4"/>
<line x1="41.5" y1="404.45" x2="262" y2="404.45" stroke="#d2d2d2" stroke-width="0.55" stroke-dasharray="0.6 0.7"/>
<line x1="40.3" y1="404.45" x2="41.5" y2="404.45" stroke="#555" stroke-width="0.4"/>
<line x1="152.60" y1="301.6" x2="152.60" y2="507.3" stroke="#d2d2d2" stroke-width="0.55" stroke-dasharray="0.6 0.7"/>
<line x1="152.60" y1="507.3" x2="152.60" y2="508.5" stroke="#555" stroke-width="0.4"/>
<line x1="41.5" y1="395.10" x2="262" y2="395.10" stroke="#d2d2d2" stroke-width="0.55" stroke-dasharray="0.6 0.7"/>
<line x1="40.3" y1="395.10" x2="41.5" y2="395.10" stroke="#555" stroke-width="0.4"/>
<line x1="174.60" y1="301.6" x2="174.60" y2="507.3" stroke="#d2d2d2" stroke-width="0.55" stroke-dasharray="0.6 0.7"/>
<line x1="174.60" y1="507.3" x2="174.60" y2="508.5" stroke="#555" stroke-width="0.4"/>
<line x1="41.5" y1="376.38" x2="262" y2="376.38" stroke="#d2d2d2" stroke-width="0.55" stroke-dasharray="0.6 0.7"/>
<line x1="40.3" y1="376.38" x2="41.5" y2="376.38" stroke="#555" stroke-width="0.4"/>
<line x1="185.60" y1="301.6" x2="185.60" y2="507.3" stroke="#d2d2d2" stroke-width="0.55" stroke-dasharray="0.6 0.7"/>
<line x1="185.60" y1="507.3" x2="185.60" y2="508.5" stroke="#555" stroke-width="0.4"/>
<line x1="41.5" y1="367.03" x2="262" y2="367.03" stroke="#d2d2d2" stroke-width="0.55" stroke-dasharray="0.6 0.7"/>
<line x1="40.3" y1="367.03" x2="41.5" y2="367.03" stroke="#555" stroke-width="0.4"/>
<line x1="196.60" y1="301.6" x2="196.60" y2="507.3" stroke="#d2d2d2" stroke-width="0.55" stroke-dasharray="0.6 0.7"/>
<line x1="196.60" y1="507.3" x2="196.60" y2="508.5" stroke="#555" stroke-width="0.4"/>
<line x1="41.5" y1="357.68" x2="262" y2="357.68" stroke="#d2d2d2" stroke-width="0.55" stroke-dasharray="0.6 0.7"/>
<line x1="40.3" y1="357.68" x2="41.5" y2="357.68" stroke="#555" stroke-width="0.4"/>
<line x1="218.60" y1="301.6" x2="218.60" y2="507.3" stroke="#d2d2d2" stroke-width="0.55" stroke-dasharray="0.6 0.7"/>
<line x1="218.60" y1="507.3" x2="218.60" y2="508.5" stroke="#555" stroke-width="0.4"/>
<line x1="41.5" y1="338.97" x2="262" y2="338.97" stroke="#d2d2d2" stroke-width="0.55" stroke-dasharray="0.6 0.7"/>
<line x1="40.3" y1="338.97" x2="41.5" y2="338.97" stroke="#555" stroke-width="0.4"/>
<line x1="229.60" y1="301.6" x2="229.60" y2="507.3" stroke="#d2d2d2" stroke-width="0.55" stroke-dasharray="0.6 0.7"/>
<line x1="229.60" y1="507.3" x2="229.60" y2="508.5" stroke="#555" stroke-width="0.4"/>
<line x1="41.5" y1="329.61" x2="262" y2="329.61" stroke="#d2d2d2" stroke-width="0.55" stroke-dasharray="0.6 0.7"/>
<line x1="40.3" y1="329.61" x2="41.5" y2="329.61" stroke="#555" stroke-width="0.4"/>
<line x1="240.60" y1="301.6" x2="240.60" y2="507.3" stroke="#d2d2d2" stroke-width="0.55" stroke-dasharray="0.6 0.7"/>
<line x1="240.60" y1="507.3" x2="240.60" y2="508.5" stroke="#555" stroke-width="0.4"/>
<line x1="41.5" y1="320.25" x2="262" y2="320.25" stroke="#d2d2d2" stroke-width="0.55" stroke-dasharray="0.6 0.7"/>
<line x1="40.3" y1="320.25" x2="41.5" y2="320.25" stroke="#555" stroke-width="0.4"/>
<line x1="41.5" y1="498.00" x2="262" y2="498.00" stroke="#b2b2b2" stroke-width="0.9" stroke-dasharray="1.7 0.6"/>
<line x1="39.1" y1="498.00" x2="41.5" y2="498.00" stroke="#444" stroke-width="0.6"/>
<text x="36.0" y="500.60" text-anchor="end" font-family="DejaVu Sans, sans-serif" font-size="7.0" fill="#333">0.0</text>
<line x1="75.60" y1="301.6" x2="75.60" y2="507.3" stroke="#b2b2b2" stroke-width="0.9" stroke-dasharray="1.7 0.6"/>
<line x1="75.60" y1="507.3" x2="75.60" y2="509.7" stroke="#444" stroke-width="0.6"/>
<text x="75.60" y="519.4" text-anchor="middle" font-family="DejaVu Sans, sans-serif" font-size="7.0" fill="#333">0.2</text>
<line x1="41.5" y1="460.58" x2="262" y2="460.58" stroke="#b2b2b2" stroke-width="0.9" stroke-dasharray="1.7 0.6"/>
<line x1="39.1" y1="460.58" x2="41.5" y2="460.58" stroke="#444" stroke-width="0.6"/>
<text x="36.0" y="463.18" text-anchor="end" font-family="DejaVu Sans, sans-serif" font-size="7.0" fill="#333">0.2</text>
<line x1="119.60" y1="301.6" x2="119.60" y2="507.3" stroke="#b2b2b2" stroke-width="0.9" stroke-dasharray="1.7 0.6"/>
<line x1="119.60" y1="507.3" x2="119.60" y2="509.7" stroke="#444" stroke-width="0.6"/>
<text x="119.60" y="519.4" text-anchor="middle" font-family="DejaVu Sans, sans-serif" font-size="7.0" fill="#333">0.4</text>
<line x1="41.5" y1="423.16" x2="262" y2="423.16" stroke="#b2b2b2" stroke-width="0.9" stroke-dasharray="1.7 0.6"/>
<line x1="39.1" y1="423.16" x2="41.5" y2="423.16" stroke="#444" stroke-width="0.6"/>
<text x="36.0" y="425.76" text-anchor="end" font-family="DejaVu Sans, sans-serif" font-size="7.0" fill="#333">0.4</text>
<line x1="163.60" y1="301.6" x2="163.60" y2="507.3" stroke="#b2b2b2" stroke-width="0.9" stroke-dasharray="1.7 0.6"/>
<line x1="163.60" y1="507.3" x2="163.60" y2="509.7" stroke="#444" stroke-width="0.6"/>
<text x="163.60" y="519.4" text-anchor="middle" font-family="DejaVu Sans, sans-serif" font-size="7.0" fill="#333">0.6</text>
<line x1="41.5" y1="385.74" x2="262" y2="385.74" stroke="#b2b2b2" stroke-width="0.9" stroke-dasharray="1.7 0.6"/>
<line x1="39.1" y1="385.74" x2="41.5" y2="385.74" stroke="#444" stroke-width="0.6"/>
<text x="36.0" y="388.34" text-anchor="end" font-family="DejaVu Sans, sans-serif" font-size="7.0" fill="#333">0.6</text>
<line x1="207.60" y1="301.6" x2="207.60" y2="507.3" stroke="#b2b2b2" stroke-width="0.9" stroke-dasharray="1.7 0.6"/>
<line x1="207.60" y1="507.3" x2="207.60" y2="509.7" stroke="#444" stroke-width="0.6"/>
<text x="207.60" y="519.4" text-anchor="middle" font-family="DejaVu Sans, sans-serif" font-size="7.0" fill="#333">0.8</text>
<line x1="41.5" y1="348.32" x2="262" y2="348.32" stroke="#b2b2b2" stroke-width="0.9" stroke-dasharray="1.7 0.6"/>
<line x1="39.1" y1="348.32" x2="41.5" y2="348.32" stroke="#444" stroke-width="0.6"/>
<text x="36.0" y="350.92" text-anchor="end" font-family="DejaVu Sans, sans-serif" font-size="7.0" fill="#333">0.8</text>
<line x1="251.60" y1="301.6" x2="251.60" y2="507.3" stroke="#b2b2b2" stroke-width="0.9" stroke-dasharray="1.7 0.6"/>
<line x1="251.60" y1="507.3" x2="251.60" y2="509.7" stroke="#444" stroke-width="0.6"/>
<text x="251.60" y="519.4" text-anchor="middle" font-family="DejaVu Sans, sans-serif" font-size="7.0" fill="#333">1.0</text>
<line x1="41.5" y1="310.90" x2="262" y2="310.90" stroke="#b2b2b2" stroke-width="0.9" stroke-dasharray="1.7 0.6"/>
<line x1="39.1" y1="310.90" x2="41.5" y2="310.90" stroke="#444" stroke-width="0.6"/>
<text x="36.0" y="313.50" text-anchor="end" font-family="DejaVu Sans, sans-serif" font-size="7.0" fill="#333">1.0</text>
<path d="M156.09,311.07 L159.85,311.08 L163.60,311.09 L163.60,311.09 L167.27,311.11 L167.27,311.15 L170.93,311.17 L170.93,311.21 L174.60,311.23 L174.60,311.27 L178.27,311.30 L178.27,311.34 L181.93,311.36 L181.93,311.40 L185.60,311.42 L185.60,311.46 L189.27,311.48 L189.27,311.52 L192.93,311.55 L192.93,311.59 L196.60,311.61 L196.60,311.65 L196.60,311.65 L200.27,311.71 L200.27,311.84 L203.93,311.90 L203.93,312.02 L207.60,312.09 L207.60,312.21 L211.27,312.28 L211.27,312.40 L214.93,312.46 L214.93,312.58 L218.60,312.65 L218.60,312.77 L218.60,312.77 L222.27,312.90 L222.27,313.15 L225.93,313.28 L225.93,313.52 L229.60,313.65 L229.60,313.89 L229.60,313.89 L232.90,314.19 L232.90,314.74 L236.20,315.03 L236.20,315.58 L236.20,315.58 L239.50,315.90 L239.50,316.51 L242.80,316.84 L242.80,317.45 L242.80,317.45 L246.10,319.32 L246.10,319.32 L249.40,322.13 L249.40,322.13 L250.50,329.61 L250.50,329.61 L250.72,338.97 L250.94,348.32 L251.16,357.68 L251.16,357.68 L251.60,367.03" fill="none" stroke="#1f77b4" stroke-width="1.25" stroke-linejoin="round"/>
<path d="M156.09,311.25 L159.85,311.26 L163.60,311.27 L163.60,311.27 L167.27,311.30 L167.27,311.36 L170.93,311.39 L170.93,311.44 L174.60,311.47 L174.60,311.52 L178.27,311.55 L178.27,311.61 L181.93,311.64 L181.93,311.69 L185.60,311.72 L185.60,311.77 L189.27,311.80 L189.27,311.86 L192.93,311.89 L192.93,311.94 L196.60,311.97 L196.60,312.02 L196.60,312.02 L200.27,312.10 L200.27,312.24 L203.93,312.32 L203.93,312.46 L207.60,312.54 L207.60,312.68 L211.27,312.75 L211.27,312.90 L214.93,312.97 L214.93,313.11 L218.60,313.19 L218.60,313.33 L218.60,313.33 L222.27,313.53 L222.27,313.89 L225.93,314.09 L225.93,314.45 L229.60,314.65 L229.60,315.02 L229.60,315.02 L234.00,315.54 L234.00,316.51 L238.40,317.04 L238.40,318.01 L238.40,318.01 L241.70,322.13 L241.70,322.13 L243.90,329.61 L243.90,329.61 L246.10,335.22 L246.10,335.22 L248.30,338.97 L248.30,338.97 L249.84,348.32 L249.84,348.32 L250.39,350.94 L250.39,355.80 L250.94,358.42 L250.94,363.29 L250.94,363.29 L251.60,370.77" fill="none" stroke="#aec7e8" stroke-width="1.25" stroke-linejoin="round"/>
<path d="M156.09,311.25 L159.85,311.26 L163.60,311.27 L163.60,311.27 L167.27,311.31 L167.27,311.37 L170.93,311.40 L170.93,311.46 L174.60,311.49 L174.60,311.55 L178.27,311.59 L178.27,311.65 L181.93,311.68 L181.93,311.74 L185.60,311.77 L185.60,311.84 L189.27,311.87 L189.27,311.93 L192.93,311.96 L192.93,312.02 L196.60,312.06 L196.60,312.12 L200.27,312.15 L200.27,312.21 L203.93,312.24 L203.93,312.30 L207.60,312.34 L207.60,312.40 L207.60,312.40 L212.00,312.51 L212.00,312.72 L216.40,312.84 L216.40,313.05 L220.80,313.17 L220.80,313.38 L225.20,313.49 L225.20,313.71 L225.20,313.71 L229.60,314.13 L229.60,314.92 L234.00,315.35 L234.00,316.14 L234.00,316.14 L239.50,319.32 L239.50,319.32 L241.04,324.00 L241.04,324.00 L242.14,330.55 L242.14,330.55 L245.00,337.28 L245.00,337.28 L247.42,341.02 L247.42,341.02 L247.57,349.69 L247.71,358.36 L247.86,367.03 L247.86,367.03 L247.91,374.70 L247.97,382.37 L248.03,390.04 L248.08,397.71 L248.08,397.71 L250.28,401.64 L250.28,401.64 L250.50,412.40 L250.72,423.16 L250.72,423.16 L250.81,425.78 L250.81,430.64 L250.90,433.26 L250.90,438.13 L250.98,440.75 L250.98,445.61 L251.07,448.23 L251.07,453.10 L251.16,455.72 L251.16,460.58 L251.25,463.20 L251.25,468.06 L251.34,470.68 L251.34,475.55 L251.42,478.17 L251.42,483.03 L251.51,485.65 L251.51,490.52 L251.60,493.14 L251.60,498.00" fill="none" stroke="#ff7f0e" stroke-width="1.25" stroke-linejoin="round"/>
<path d="M156.09,311.07 L159.85,311.08 L163.60,311.09 L163.60,311.09 L167.27,311.12 L167.27,311.17 L170.93,311.20 L170.93,311.25 L174.60,311.28 L174.60,311.34 L178.27,311.37 L178.27,311.42 L181.93,311.45 L181.93,311.50 L185.60,311.53 L185.60,311.59 L189.27,311.62 L189.27,311.67 L192.93,311.70 L192.93,311.75 L196.60,311.78 L196.60,311.84 L196.60,311.84 L200.27,311.90 L200.27,312.02 L203.93,312.09 L203.93,312.21 L207.60,312.28 L207.60,312.40 L211.27,312.46 L211.27,312.58 L214.93,312.65 L214.93,312.77 L218.60,312.84 L218.60,312.96 L218.60,312.96 L222.27,313.15 L222.27,313.52 L225.93,313.72 L225.93,314.08 L229.60,314.28 L229.60,314.64 L229.60,314.64 L234.00,315.03 L234.00,315.76 L238.40,316.16 L238.40,316.89 L238.40,316.89 L242.80,319.32 L242.80,319.32 L246.10,324.00 L246.10,324.00 L248.30,329.61 L248.30,329.61 L249.84,338.97 L249.84,338.97 L250.50,342.24 L250.50,348.32 L251.16,351.59 L251.16,357.68 L251.16,357.68 L251.38,366.09 L251.60,374.51" fill="none" stroke="#ffbb78" stroke-width="1.25" stroke-linejoin="round"/>
<path d="M152.60,311.46 L152.60,311.46 L156.27,311.49 L156.27,311.54 L159.93,311.57 L159.93,311.63 L163.60,311.66 L163.60,311.71 L167.27,311.74 L167.27,311.79 L170.93,311.82 L170.93,311.88 L174.60,311.91 L174.60,311.96 L178.27,311.99 L178.27,312.04 L181.93,312.07 L181.93,312.13 L185.60,312.16 L185.60,312.21 L185.60,312.21 L189.27,312.22 L189.27,312.24 L192.93,312.25 L192.93,312.27 L196.60,312.28 L196.60,312.30 L200.27,312.31 L200.27,312.33 L203.93,312.35 L203.93,312.37 L207.60,312.38 L207.60,312.40 L207.60,312.40 L211.27,312.44 L211.27,312.52 L214.93,312.57 L214.93,312.65 L218.60,312.69 L218.60,312.77 L222.27,312.81 L222.27,312.90 L225.93,312.94 L225.93,313.02 L229.60,313.06 L229.60,313.15 L229.60,313.15 L233.27,313.28 L233.27,313.52 L236.93,313.65 L236.93,313.89 L240.60,314.02 L240.60,314.27 L240.60,314.27 L247.20,315.58 L247.20,315.58 L250.50,317.45 L250.50,317.45 L251.38,324.00 L251.38,324.00 L251.42,331.86 L251.47,339.71 L251.51,347.57 L251.56,355.43 L251.60,363.29" fill="none" stroke="#2ca02c" stroke-width="1.25" stroke-linejoin="round"/>
<path d="M152.60,311.65 L152.60,311.65 L156.27,311.66 L156.27,311.69 L159.93,311.70 L159.93,311.73 L163.60,311.75 L163.60,311.77 L167.27,311.79 L167.27,311.81 L170.93,311.83 L170.93,311.86 L174.60,311.87 L174.60,311.90 L178.27,311.91 L178.27,311.94 L181.93,311.95 L181.93,311.98 L185.60,312.00 L185.60,312.02 L185.60,312.02 L189.27,312.07 L189.27,312.15 L192.93,312.19 L192.93,312.27 L196.60,312.32 L196.60,312.40 L200.27,312.44 L200.27,312.52 L203.93,312.57 L203.93,312.65 L207.60,312.69 L207.60,312.77 L207.60,312.77 L211.27,312.86 L211.27,313.02 L214.93,313.11 L214.93,313.27 L218.60,313.36 L218.60,313.52 L222.27,313.61 L222.27,313.77 L225.93,313.86 L225.93,314.02 L229.60,314.11 L229.60,314.27 L229.60,314.27 L234.00,314.66 L234.00,315.39 L238.40,315.78 L238.40,316.51 L238.40,316.51 L242.14,319.32 L242.14,319.32 L243.90,327.74 L243.90,327.74 L246.10,334.29 L246.10,334.29 L248.30,338.03 L248.30,338.03 L250.50,344.58 L250.50,344.58 L250.87,347.20 L250.87,352.06 L251.23,354.68 L251.23,359.55 L251.60,362.17 L251.60,367.03" fill="none" stroke="#98df8a" stroke-width="1.25" stroke-linejoin="round"/>
<path d="M50.96,310.90 L54.70,310.91 L58.44,310.92 L62.18,310.93 L65.92,310.94 L69.66,310.95 L73.40,310.96 L77.14,310.97 L80.88,310.98 L84.62,310.99 L88.36,311.00 L92.10,311.01 L95.84,311.02 L99.58,311.04 L103.32,311.05 L107.06,311.06 L110.80,311.07 L114.54,311.08 L118.28,311.09 L122.02,311.10 L125.76,311.11 L129.50,311.12 L133.24,311.13 L136.98,311.14 L140.72,311.15 L144.46,311.16 L148.20,311.17 L151.94,311.18 L155.68,311.19 L159.42,311.20 L163.16,311.21 L166.90,311.22 L170.64,311.23 L174.38,311.24 L178.12,311.25 L181.86,311.26 L185.60,311.27 L185.60,311.27 L189.27,311.31 L189.27,311.38 L192.93,311.41 L192.93,311.48 L196.60,311.52 L196.60,311.59 L200.27,311.62 L200.27,311.69 L203.93,311.73 L203.93,311.79 L207.60,311.83 L207.60,311.90 L211.27,311.93 L211.27,312.00 L214.93,312.04 L214.93,312.11 L218.60,312.14 L218.60,312.21 L218.60,312.21 L223.00,312.31 L223.00,312.49 L227.40,312.59 L227.40,312.77 L231.80,312.87 L231.80,313.05 L236.20,313.15 L236.20,313.33 L236.20,313.33 L240.60,313.56 L240.60,313.99 L245.00,314.22 L245.00,314.64 L245.00,314.64 L249.40,315.95 L249.40,315.95 L251.16,317.26 L251.16,317.26 L251.60,319.32 L251.60,319.32 L251.60,327.09 L251.60,334.86 L251.60,342.63 L251.60,350.39 L251.60,358.16 L251.60,365.93 L251.60,373.70 L251.60,381.47 L251.60,389.24 L251.60,397.01 L251.60,404.78 L251.60,412.54 L251.60,420.31 L251.60,428.08 L251.60,435.85 L251.60,443.62 L251.60,451.39 L251.60,459.16 L251.60,466.93 L251.60,474.69 L251.60,482.46 L251.60,490.23 L251.60,498.00" fill="none" stroke="#d62728" stroke-width="1.25" stroke-linejoin="round"/>
<path d="M155.68,311.48 L159.42,311.50 L163.16,311.52 L166.90,311.54 L170.64,311.57 L174.38,311.59 L178.12,311.61 L181.86,311.63 L185.60,311.65 L185.60,311.65 L189.27,311.71 L189.27,311.81 L192.93,311.87 L192.93,311.98 L196.60,312.04 L196.60,312.15 L200.27,312.21 L200.27,312.31 L203.93,312.37 L203.93,312.48 L207.60,312.54 L207.60,312.65 L211.27,312.70 L211.27,312.81 L214.93,312.87 L214.93,312.98 L218.60,313.04 L218.60,313.15 L218.60,313.15 L222.27,313.32 L222.27,313.64 L225.93,313.82 L225.93,314.14 L229.60,314.32 L229.60,314.64 L229.60,314.64 L234.00,315.13 L234.00,316.05 L238.40,316.54 L238.40,317.45 L238.40,317.45 L241.70,317.94 L241.70,318.85 L245.00,319.34 L245.00,320.25 L245.00,320.25 L248.30,324.00 L248.30,324.00 L250.50,329.61 L250.50,329.61 L250.72,332.23 L250.72,337.09 L250.94,339.71 L250.94,344.58 L251.16,347.20 L251.16,352.06 L251.38,354.68 L251.38,359.55 L251.60,362.17 L251.60,367.03" fill="none" stroke="#ff9896" stroke-width="1.25" stroke-linejoin="round"/>
<path d="M155.68,311.34 L159.42,311.35 L163.16,311.37 L166.90,311.38 L170.64,311.40 L174.38,311.41 L178.12,311.43 L181.86,311.45 L185.60,311.46 L185.60,311.46 L189.27,311.51 L189.27,311.61 L192.93,311.66 L192.93,311.75 L196.60,311.80 L196.60,311.90 L200.27,311.95 L200.27,312.04 L203.93,312.09 L203.93,312.19 L207.60,312.24 L207.60,312.33 L211.27,312.39 L211.27,312.48 L214.93,312.53 L214.93,312.63 L218.60,312.68 L218.60,312.77 L218.60,312.77 L222.45,312.93 L222.45,313.24 L226.30,313.40 L226.30,313.71 L230.15,313.87 L230.15,314.17 L234.00,314.34 L234.00,314.64 L234.00,314.64 L238.40,315.07 L238.40,315.86 L242.80,316.28 L242.80,317.07 L242.80,317.07 L248.30,318.76 L248.30,318.76 L250.94,320.25 L250.94,320.25 L251.27,324.00 L251.27,324.00 L251.27,332.42 L251.27,340.84 L251.27,349.26 L251.27,357.68 L251.27,366.09 L251.27,374.51" fill="none" stroke="#9467bd" stroke-width="1.25" stroke-linejoin="round"/>
<path d="M155.68,311.48 L159.42,311.50 L163.16,311.52 L166.90,311.54 L170.64,311.57 L174.38,311.59 L178.12,311.61 L181.86,311.63 L185.60,311.65 L185.60,311.65 L189.27,311.70 L189.27,311.79 L192.93,311.84 L192.93,311.94 L196.60,311.99 L196.60,312.08 L200.27,312.14 L200.27,312.23 L203.93,312.28 L203.93,312.38 L207.60,312.43 L207.60,312.52 L211.27,312.57 L211.27,312.67 L214.93,312.72 L214.93,312.81 L218.60,312.86 L218.60,312.96 L218.60,312.96 L222.27,313.13 L222.27,313.46 L225.93,313.63 L225.93,313.96 L229.60,314.13 L229.60,314.45 L229.60,314.45 L233.27,314.87 L233.27,315.64 L236.93,316.05 L236.93,316.82 L240.60,317.24 L240.60,318.01 L240.60,318.01 L246.10,321.19 L246.10,321.19 L249.40,325.87 L249.40,325.87 L250.17,328.16 L250.17,332.42 L250.94,334.71 L250.94,338.97 L250.94,338.97 L251.10,346.92 L251.27,354.87 L251.43,362.82 L251.60,370.77" fill="none" stroke="#c5b0d5" stroke-width="1.25" stroke-linejoin="round"/>
<path d="M50.96,310.90 L54.65,310.91 L58.34,310.92 L62.02,310.93 L65.71,310.94 L69.40,310.95 L73.09,310.96 L76.78,310.97 L80.46,310.98 L84.15,310.99 L87.84,311.00 L91.53,311.01 L95.21,311.02 L98.90,311.03 L102.59,311.04 L106.28,311.05 L109.97,311.06 L113.65,311.07 L117.34,311.08 L121.03,311.09 L124.72,311.10 L128.41,311.11 L132.09,311.12 L135.78,311.13 L139.47,311.14 L143.16,311.15 L146.85,311.16 L150.53,311.17 L154.22,311.18 L157.91,311.19 L161.60,311.20 L165.28,311.21 L168.97,311.22 L172.66,311.22 L176.35,311.23 L180.04,311.24 L183.72,311.25 L187.41,311.26 L191.10,311.27 L191.10,311.27 L192.64,313.33 L192.64,313.33 L196.38,313.35 L196.38,313.38 L200.12,313.40 L200.12,313.43 L203.86,313.44 L203.86,313.47 L207.60,313.49 L207.60,313.52 L207.60,313.52 L214.20,313.89 L214.20,313.89 L218.05,314.01 L218.05,314.22 L221.90,314.34 L221.90,314.55 L225.75,314.66 L225.75,314.88 L229.60,314.99 L229.60,315.20 L229.60,315.20 L230.70,316.51 L230.70,316.51 L236.20,317.26 L236.20,317.26 L239.50,317.56 L239.50,318.10 L242.80,318.40 L242.80,318.95 L242.80,318.95 L248.30,320.25 L248.30,320.25 L250.94,322.13 L250.94,322.13 L251.60,325.87 L251.60,325.87 L251.60,333.35 L251.60,340.84 L251.60,348.32 L251.60,355.80 L251.60,363.29 L251.60,370.77 L251.60,378.26 L251.60,385.74 L251.60,393.22 L251.60,400.71 L251.60,408.19 L251.60,415.68 L251.60,423.16 L251.60,430.64 L251.60,438.13 L251.60,445.61 L251.60,453.10 L251.60,460.58 L251.60,468.06 L251.60,475.55 L251.60,483.03 L251.60,490.52 L251.60,498.00" fill="none" stroke="#8c564b" stroke-width="1.25" stroke-linejoin="round"/>
<rect x="43.2" y="432.5" width="174" height="71" rx="1.5" fill="#fff" fill-opacity="0.93" stroke="#f2f2f2" stroke-width="0.6"/>
<line x1="48.40" y1="439.10" x2="66.60" y2="439.10" stroke="#1f77b4" stroke-width="1.1"/>
<text x="72.40" y="442.05" font-family="DejaVu Sans, sans-serif" font-size="8.15" fill="#333">Optimistic</text>
<line x1="48.40" y1="450.50" x2="66.60" y2="450.50" stroke="#aec7e8" stroke-width="1.1"/>
<text x="72.40" y="453.45" font-family="DejaVu Sans, sans-serif" font-size="8.15" fill="#333">Thankful</text>
<line x1="48.40" y1="461.90" x2="66.60" y2="461.90" stroke="#ff7f0e" stroke-width="1.1"/>
<text x="72.40" y="464.85" font-family="DejaVu Sans, sans-serif" font-size="8.15" fill="#333">Empathetic</text>
<line x1="48.40" y1="473.30" x2="66.60" y2="473.30" stroke="#ffbb78" stroke-width="1.1"/>
<text x="72.40" y="476.25" font-family="DejaVu Sans, sans-serif" font-size="8.15" fill="#333">Pessimistic</text>
<line x1="48.40" y1="484.70" x2="66.60" y2="484.70" stroke="#2ca02c" stroke-width="1.1"/>
<text x="72.40" y="487.65" font-family="DejaVu Sans, sans-serif" font-size="8.15" fill="#333">Anxious</text>
<line x1="48.40" y1="496.10" x2="66.60" y2="496.10" stroke="#98df8a" stroke-width="1.1"/>
<text x="72.40" y="499.05" font-family="DejaVu Sans, sans-serif" font-size="8.15" fill="#333">Sad</text>
<line x1="133.90" y1="439.10" x2="152.10" y2="439.10" stroke="#d62728" stroke-width="1.1"/>
<text x="157.90" y="442.05" font-family="DejaVu Sans, sans-serif" font-size="8.15" fill="#333">Annoyed</text>
<line x1="133.90" y1="450.50" x2="152.10" y2="450.50" stroke="#ff9896" stroke-width="1.1"/>
<text x="157.90" y="453.45" font-family="DejaVu Sans, sans-serif" font-size="8.15" fill="#333">Denial</text>
<line x1="133.90" y1="461.90" x2="152.10" y2="461.90" stroke="#9467bd" stroke-width="1.1"/>
<text x="157.90" y="464.85" font-family="DejaVu Sans, sans-serif" font-size="8.15" fill="#333">Surprise</text>
<line x1="133.90" y1="473.30" x2="152.10" y2="473.30" stroke="#c5b0d5" stroke-width="1.1"/>
<text x="157.90" y="476.25" font-family="DejaVu Sans, sans-serif" font-size="8.15" fill="#333">Official report</text>
<line x1="133.90" y1="484.70" x2="152.10" y2="484.70" stroke="#8c564b" stroke-width="1.1"/>
<text x="157.90" y="487.65" font-family="DejaVu Sans, sans-serif" font-size="8.15" fill="#333">Joking</text>
<rect x="41.5" y="301.6" width="220.5" height="205.7" fill="none" stroke="#7a7a7a" stroke-width="1"/>
<text x="151.75" y="535.6" text-anchor="middle" font-family="DejaVu Sans, sans-serif" font-size="8.0" fill="#333">Recall</text>
<text transform="translate(14.8,405.55) rotate(-90)" text-anchor="middle" font-family="DejaVu Sans, sans-serif" font-size="8.0" fill="#333">Precision</text>
<text x="146.95" y="555.20" text-anchor="end" font-family="Liberation Sans, Noto Sans CJK SC, sans-serif" font-size="11.4" font-weight="bold" fill="#222" stroke="#222" stroke-width="0.25">（</text>
<text x="153.35" y="555.40" text-anchor="middle" font-family="Liberation Sans, Noto Sans CJK SC, sans-serif" font-size="13.5" fill="#222" stroke="#222" stroke-width="0.5">c</text>
<text x="159.85" y="555.20" text-anchor="start" font-family="Liberation Sans, Noto Sans CJK SC, sans-serif" font-size="11.4" font-weight="bold" fill="#222" stroke="#222" stroke-width="0.25">）</text>
</g>
<g>
<text x="431.20" y="292.2" text-anchor="middle" font-family="Liberation Sans, sans-serif" font-weight="bold" font-size="11.0" fill="#1c1c1c" stroke="#1c1c1c" stroke-width="0.12">ROC-Curve</text>
<rect x="321.2" y="301.6" width="220.00000000000006" height="205.7" fill="#fff"/>
<line x1="340.88" y1="301.6" x2="340.88" y2="507.3" stroke="#d2d2d2" stroke-width="0.55" stroke-dasharray="0.6 0.7"/>
<line x1="340.88" y1="507.3" x2="340.88" y2="508.5" stroke="#555" stroke-width="0.4"/>
<line x1="321.2" y1="488.64" x2="541.2" y2="488.64" stroke="#d2d2d2" stroke-width="0.55" stroke-dasharray="0.6 0.7"/>
<line x1="320.0" y1="488.64" x2="321.2" y2="488.64" stroke="#555" stroke-width="0.4"/>
<line x1="350.85" y1="301.6" x2="350.85" y2="507.3" stroke="#d2d2d2" stroke-width="0.55" stroke-dasharray="0.6 0.7"/>
<line x1="350.85" y1="507.3" x2="350.85" y2="508.5" stroke="#555" stroke-width="0.4"/>
<line x1="321.2" y1="479.29" x2="541.2" y2="479.29" stroke="#d2d2d2" stroke-width="0.55" stroke-dasharray="0.6 0.7"/>
<line x1="320.0" y1="479.29" x2="321.2" y2="479.29" stroke="#555" stroke-width="0.4"/>
<line x1="360.82" y1="301.6" x2="360.82" y2="507.3" stroke="#d2d2d2" stroke-width="0.55" stroke-dasharray="0.6 0.7"/>
<line x1="360.82" y1="507.3" x2="360.82" y2="508.5" stroke="#555" stroke-width="0.4"/>
<line x1="321.2" y1="469.94" x2="541.2" y2="469.94" stroke="#d2d2d2" stroke-width="0.55" stroke-dasharray="0.6 0.7"/>
<line x1="320.0" y1="469.94" x2="321.2" y2="469.94" stroke="#555" stroke-width="0.4"/>
<line x1="380.77" y1="301.6" x2="380.77" y2="507.3" stroke="#d2d2d2" stroke-width="0.55" stroke-dasharray="0.6 0.7"/>
<line x1="380.77" y1="507.3" x2="380.77" y2="508.5" stroke="#555" stroke-width="0.4"/>
<line x1="321.2" y1="451.23" x2="541.2" y2="451.23" stroke="#d2d2d2" stroke-width="0.55" stroke-dasharray="0.6 0.7"/>
<line x1="320.0" y1="451.23" x2="321.2" y2="451.23" stroke="#555" stroke-width="0.4"/>
<line x1="390.75" y1="301.6" x2="390.75" y2="507.3" stroke="#d2d2d2" stroke-width="0.55" stroke-dasharray="0.6 0.7"/>
<line x1="390.75" y1="507.3" x2="390.75" y2="508.5" stroke="#555" stroke-width="0.4"/>
<line x1="321.2" y1="441.87" x2="541.2" y2="441.87" stroke="#d2d2d2" stroke-width="0.55" stroke-dasharray="0.6 0.7"/>
<line x1="320.0" y1="441.87" x2="321.2" y2="441.87" stroke="#555" stroke-width="0.4"/>
<line x1="400.72" y1="301.6" x2="400.72" y2="507.3" stroke="#d2d2d2" stroke-width="0.55" stroke-dasharray="0.6 0.7"/>
<line x1="400.72" y1="507.3" x2="400.72" y2="508.5" stroke="#555" stroke-width="0.4"/>
<line x1="321.2" y1="432.51" x2="541.2" y2="432.51" stroke="#d2d2d2" stroke-width="0.55" stroke-dasharray="0.6 0.7"/>
<line x1="320.0" y1="432.51" x2="321.2" y2="432.51" stroke="#555" stroke-width="0.4"/>
<line x1="420.67" y1="301.6" x2="420.67" y2="507.3" stroke="#d2d2d2" stroke-width="0.55" stroke-dasharray="0.6 0.7"/>
<line x1="420.67" y1="507.3" x2="420.67" y2="508.5" stroke="#555" stroke-width="0.4"/>
<line x1="321.2" y1="413.81" x2="541.2" y2="413.81" stroke="#d2d2d2" stroke-width="0.55" stroke-dasharray="0.6 0.7"/>
<line x1="320.0" y1="413.81" x2="321.2" y2="413.81" stroke="#555" stroke-width="0.4"/>
<line x1="430.65" y1="301.6" x2="430.65" y2="507.3" stroke="#d2d2d2" stroke-width="0.55" stroke-dasharray="0.6 0.7"/>
<line x1="430.65" y1="507.3" x2="430.65" y2="508.5" stroke="#555" stroke-width="0.4"/>
<line x1="321.2" y1="404.45" x2="541.2" y2="404.45" stroke="#d2d2d2" stroke-width="0.55" stroke-dasharray="0.6 0.7"/>
<line x1="320.0" y1="404.45" x2="321.2" y2="404.45" stroke="#555" stroke-width="0.4"/>
<line x1="440.62" y1="301.6" x2="440.62" y2="507.3" stroke="#d2d2d2" stroke-width="0.55" stroke-dasharray="0.6 0.7"/>
<line x1="440.62" y1="507.3" x2="440.62" y2="508.5" stroke="#555" stroke-width="0.4"/>
<line x1="321.2" y1="395.10" x2="541.2" y2="395.10" stroke="#d2d2d2" stroke-width="0.55" stroke-dasharray="0.6 0.7"/>
<line x1="320.0" y1="395.10" x2="321.2" y2="395.10" stroke="#555" stroke-width="0.4"/>
<line x1="460.57" y1="301.6" x2="460.57" y2="507.3" stroke="#d2d2d2" stroke-width="0.55" stroke-dasharray="0.6 0.7"/>
<line x1="460.57" y1="507.3" x2="460.57" y2="508.5" stroke="#555" stroke-width="0.4"/>
<line x1="321.2" y1="376.38" x2="541.2" y2="376.38" stroke="#d2d2d2" stroke-width="0.55" stroke-dasharray="0.6 0.7"/>
<line x1="320.0" y1="376.38" x2="321.2" y2="376.38" stroke="#555" stroke-width="0.4"/>
<line x1="470.55" y1="301.6" x2="470.55" y2="507.3" stroke="#d2d2d2" stroke-width="0.55" stroke-dasharray="0.6 0.7"/>
<line x1="470.55" y1="507.3" x2="470.55" y2="508.5" stroke="#555" stroke-width="0.4"/>
<line x1="321.2" y1="367.03" x2="541.2" y2="367.03" stroke="#d2d2d2" stroke-width="0.55" stroke-dasharray="0.6 0.7"/>
<line x1="320.0" y1="367.03" x2="321.2" y2="367.03" stroke="#555" stroke-width="0.4"/>
<line x1="480.52" y1="301.6" x2="480.52" y2="507.3" stroke="#d2d2d2" stroke-width="0.55" stroke-dasharray="0.6 0.7"/>
<line x1="480.52" y1="507.3" x2="480.52" y2="508.5" stroke="#555" stroke-width="0.4"/>
<line x1="321.2" y1="357.68" x2="541.2" y2="357.68" stroke="#d2d2d2" stroke-width="0.55" stroke-dasharray="0.6 0.7"/>
<line x1="320.0" y1="357.68" x2="321.2" y2="357.68" stroke="#555" stroke-width="0.4"/>
<line x1="500.47" y1="301.6" x2="500.47" y2="507.3" stroke="#d2d2d2" stroke-width="0.55" stroke-dasharray="0.6 0.7"/>
<line x1="500.47" y1="507.3" x2="500.47" y2="508.5" stroke="#555" stroke-width="0.4"/>
<line x1="321.2" y1="338.97" x2="541.2" y2="338.97" stroke="#d2d2d2" stroke-width="0.55" stroke-dasharray="0.6 0.7"/>
<line x1="320.0" y1="338.97" x2="321.2" y2="338.97" stroke="#555" stroke-width="0.4"/>
<line x1="510.45" y1="301.6" x2="510.45" y2="507.3" stroke="#d2d2d2" stroke-width="0.55" stroke-dasharray="0.6 0.7"/>
<line x1="510.45" y1="507.3" x2="510.45" y2="508.5" stroke="#555" stroke-width="0.4"/>
<line x1="321.2" y1="329.61" x2="541.2" y2="329.61" stroke="#d2d2d2" stroke-width="0.55" stroke-dasharray="0.6 0.7"/>
<line x1="320.0" y1="329.61" x2="321.2" y2="329.61" stroke="#555" stroke-width="0.4"/>
<line x1="520.42" y1="301.6" x2="520.42" y2="507.3" stroke="#d2d2d2" stroke-width="0.55" stroke-dasharray="0.6 0.7"/>
<line x1="520.42" y1="507.3" x2="520.42" y2="508.5" stroke="#555" stroke-width="0.4"/>
<line x1="321.2" y1="320.25" x2="541.2" y2="320.25" stroke="#d2d2d2" stroke-width="0.55" stroke-dasharray="0.6 0.7"/>
<line x1="320.0" y1="320.25" x2="321.2" y2="320.25" stroke="#555" stroke-width="0.4"/>
<line x1="330.90" y1="301.6" x2="330.90" y2="507.3" stroke="#b2b2b2" stroke-width="0.9" stroke-dasharray="1.7 0.6"/>
<line x1="330.90" y1="507.3" x2="330.90" y2="509.7" stroke="#444" stroke-width="0.6"/>
<text x="330.90" y="519.4" text-anchor="middle" font-family="DejaVu Sans, sans-serif" font-size="7.0" fill="#333">0.0</text>
<line x1="321.2" y1="498.00" x2="541.2" y2="498.00" stroke="#b2b2b2" stroke-width="0.9" stroke-dasharray="1.7 0.6"/>
<line x1="318.8" y1="498.00" x2="321.2" y2="498.00" stroke="#444" stroke-width="0.6"/>
<text x="315.7" y="500.60" text-anchor="end" font-family="DejaVu Sans, sans-serif" font-size="7.0" fill="#333">0.0</text>
<line x1="370.80" y1="301.6" x2="370.80" y2="507.3" stroke="#b2b2b2" stroke-width="0.9" stroke-dasharray="1.7 0.6"/>
<line x1="370.80" y1="507.3" x2="370.80" y2="509.7" stroke="#444" stroke-width="0.6"/>
<text x="370.80" y="519.4" text-anchor="middle" font-family="DejaVu Sans, sans-serif" font-size="7.0" fill="#333">0.2</text>
<line x1="321.2" y1="460.58" x2="541.2" y2="460.58" stroke="#b2b2b2" stroke-width="0.9" stroke-dasharray="1.7 0.6"/>
<line x1="318.8" y1="460.58" x2="321.2" y2="460.58" stroke="#444" stroke-width="0.6"/>
<text x="315.7" y="463.18" text-anchor="end" font-family="DejaVu Sans, sans-serif" font-size="7.0" fill="#333">0.2</text>
<line x1="410.70" y1="301.6" x2="410.70" y2="507.3" stroke="#b2b2b2" stroke-width="0.9" stroke-dasharray="1.7 0.6"/>
<line x1="410.70" y1="507.3" x2="410.70" y2="509.7" stroke="#444" stroke-width="0.6"/>
<text x="410.70" y="519.4" text-anchor="middle" font-family="DejaVu Sans, sans-serif" font-size="7.0" fill="#333">0.4</text>
<line x1="321.2" y1="423.16" x2="541.2" y2="423.16" stroke="#b2b2b2" stroke-width="0.9" stroke-dasharray="1.7 0.6"/>
<line x1="318.8" y1="423.16" x2="321.2" y2="423.16" stroke="#444" stroke-width="0.6"/>
<text x="315.7" y="425.76" text-anchor="end" font-family="DejaVu Sans, sans-serif" font-size="7.0" fill="#333">0.4</text>
<line x1="450.60" y1="301.6" x2="450.60" y2="507.3" stroke="#b2b2b2" stroke-width="0.9" stroke-dasharray="1.7 0.6"/>
<line x1="450.60" y1="507.3" x2="450.60" y2="509.7" stroke="#444" stroke-width="0.6"/>
<text x="450.60" y="519.4" text-anchor="middle" font-family="DejaVu Sans, sans-serif" font-size="7.0" fill="#333">0.6</text>
<line x1="321.2" y1="385.74" x2="541.2" y2="385.74" stroke="#b2b2b2" stroke-width="0.9" stroke-dasharray="1.7 0.6"/>
<line x1="318.8" y1="385.74" x2="321.2" y2="385.74" stroke="#444" stroke-width="0.6"/>
<text x="315.7" y="388.34" text-anchor="end" font-family="DejaVu Sans, sans-serif" font-size="7.0" fill="#333">0.6</text>
<line x1="490.50" y1="301.6" x2="490.50" y2="507.3" stroke="#b2b2b2" stroke-width="0.9" stroke-dasharray="1.7 0.6"/>
<line x1="490.50" y1="507.3" x2="490.50" y2="509.7" stroke="#444" stroke-width="0.6"/>
<text x="490.50" y="519.4" text-anchor="middle" font-family="DejaVu Sans, sans-serif" font-size="7.0" fill="#333">0.8</text>
<line x1="321.2" y1="348.32" x2="541.2" y2="348.32" stroke="#b2b2b2" stroke-width="0.9" stroke-dasharray="1.7 0.6"/>
<line x1="318.8" y1="348.32" x2="321.2" y2="348.32" stroke="#444" stroke-width="0.6"/>
<text x="315.7" y="350.92" text-anchor="end" font-family="DejaVu Sans, sans-serif" font-size="7.0" fill="#333">0.8</text>
<line x1="530.40" y1="301.6" x2="530.40" y2="507.3" stroke="#b2b2b2" stroke-width="0.9" stroke-dasharray="1.7 0.6"/>
<line x1="530.40" y1="507.3" x2="530.40" y2="509.7" stroke="#444" stroke-width="0.6"/>
<text x="530.40" y="519.4" text-anchor="middle" font-family="DejaVu Sans, sans-serif" font-size="7.0" fill="#333">1.0</text>
<line x1="321.2" y1="310.90" x2="541.2" y2="310.90" stroke="#b2b2b2" stroke-width="0.9" stroke-dasharray="1.7 0.6"/>
<line x1="318.8" y1="310.90" x2="321.2" y2="310.90" stroke="#444" stroke-width="0.6"/>
<text x="315.7" y="313.50" text-anchor="end" font-family="DejaVu Sans, sans-serif" font-size="7.0" fill="#333">1.0</text>
<path d="M330.90,324.00 L330.90,318.57 L331.70,315.48 L333.19,313.43 L335.89,312.12 L340.88,311.46 L347.86,311.09" fill="none" stroke="#1f77b4" stroke-width="1.25" stroke-linejoin="round"/>
<path d="M330.90,324.00 L330.90,316.44 L331.58,313.97 L332.78,312.47 L335.29,311.50 L339.68,311.12 L347.26,310.97" fill="none" stroke="#aec7e8" stroke-width="1.25" stroke-linejoin="round"/>
<path d="M330.90,324.00 L330.90,319.28 L331.74,315.99 L333.33,313.74 L336.09,312.32 L341.27,311.57 L348.06,311.12" fill="none" stroke="#ff7f0e" stroke-width="1.25" stroke-linejoin="round"/>
<path d="M330.90,324.00 L330.90,318.22 L331.68,315.23 L333.12,313.27 L335.79,312.01 L340.68,311.41 L347.76,311.07" fill="none" stroke="#ffbb78" stroke-width="1.25" stroke-linejoin="round"/>
<path d="M330.90,324.00 L330.90,319.99 L331.78,316.49 L333.47,314.06 L336.29,312.53 L341.67,311.69 L348.26,311.16" fill="none" stroke="#2ca02c" stroke-width="1.25" stroke-linejoin="round"/>
<path d="M330.90,324.00 L330.90,321.77 L331.88,317.76 L333.82,314.86 L336.79,313.04 L342.67,311.97 L348.76,311.26" fill="none" stroke="#98df8a" stroke-width="1.25" stroke-linejoin="round"/>
<path d="M330.90,498.00 L330.90,317.86 L331.66,314.98 L333.05,313.11 L335.69,311.91 L340.48,311.35 L347.66,311.05 L360.03,310.90 L530.40,310.90" fill="none" stroke="#d62728" stroke-width="1.25" stroke-linejoin="round"/>
<path d="M330.90,324.00 L330.90,317.15 L331.62,314.47 L332.91,312.79 L335.49,311.70 L340.08,311.24 L347.46,311.01" fill="none" stroke="#ff9896" stroke-width="1.25" stroke-linejoin="round"/>
<path d="M330.90,324.00 L330.90,319.99 L331.78,316.49 L333.47,314.06 L336.29,312.53 L341.67,311.69 L348.26,311.16" fill="none" stroke="#9467bd" stroke-width="1.25" stroke-linejoin="round"/>
<path d="M330.90,324.00 L330.90,318.57 L331.70,315.48 L333.19,313.43 L335.89,312.12 L340.88,311.46 L347.86,311.09" fill="none" stroke="#c5b0d5" stroke-width="1.25" stroke-linejoin="round"/>
<path d="M330.90,498.00 L330.90,318.93 L331.72,315.74 L333.26,313.58 L335.99,312.22 L341.07,311.52 L347.96,311.11 L359.73,310.90 L530.40,310.90" fill="none" stroke="#8c564b" stroke-width="1.25" stroke-linejoin="round"/>
<rect x="363.0" y="432.5" width="174" height="71" rx="1.5" fill="#fff" fill-opacity="0.93" stroke="#f2f2f2" stroke-width="0.6"/>
<line x1="368.20" y1="439.10" x2="386.40" y2="439.10" stroke="#1f77b4" stroke-width="1.1"/>
<text x="392.20" y="442.05" font-family="DejaVu Sans, sans-serif" font-size="8.15" fill="#333">Optimistic</text>
<line x1="368.20" y1="450.50" x2="386.40" y2="450.50" stroke="#aec7e8" stroke-width="1.1"/>
<text x="392.20" y="453.45" font-family="DejaVu Sans, sans-serif" font-size="8.15" fill="#333">Thankful</text>
<line x1="368.20" y1="461.90" x2="386.40" y2="461.90" stroke="#ff7f0e" stroke-width="1.1"/>
<text x="392.20" y="464.85" font-family="DejaVu Sans, sans-serif" font-size="8.15" fill="#333">Empathetic</text>
<line x1="368.20" y1="473.30" x2="386.40" y2="473.30" stroke="#ffbb78" stroke-width="1.1"/>
<text x="392.20" y="476.25" font-family="DejaVu Sans, sans-serif" font-size="8.15" fill="#333">Pessimistic</text>
<line x1="368.20" y1="484.70" x2="386.40" y2="484.70" stroke="#2ca02c" stroke-width="1.1"/>
<text x="392.20" y="487.65" font-family="DejaVu Sans, sans-serif" font-size="8.15" fill="#333">Anxious</text>
<line x1="368.20" y1="496.10" x2="386.40" y2="496.10" stroke="#98df8a" stroke-width="1.1"/>
<text x="392.20" y="499.05" font-family="DejaVu Sans, sans-serif" font-size="8.15" fill="#333">Sad</text>
<line x1="453.70" y1="439.10" x2="471.90" y2="439.10" stroke="#d62728" stroke-width="1.1"/>
<text x="477.70" y="442.05" font-family="DejaVu Sans, sans-serif" font-size="8.15" fill="#333">Annoyed</text>
<line x1="453.70" y1="450.50" x2="471.90" y2="450.50" stroke="#ff9896" stroke-width="1.1"/>
<text x="477.70" y="453.45" font-family="DejaVu Sans, sans-serif" font-size="8.15" fill="#333">Denial</text>
<line x1="453.70" y1="461.90" x2="471.90" y2="461.90" stroke="#9467bd" stroke-width="1.1"/>
<text x="477.70" y="464.85" font-family="DejaVu Sans, sans-serif" font-size="8.15" fill="#333">Surprise</text>
<line x1="453.70" y1="473.30" x2="471.90" y2="473.30" stroke="#c5b0d5" stroke-width="1.1"/>
<text x="477.70" y="476.25" font-family="DejaVu Sans, sans-serif" font-size="8.15" fill="#333">Official report</text>
<line x1="453.70" y1="484.70" x2="471.90" y2="484.70" stroke="#8c564b" stroke-width="1.1"/>
<text x="477.70" y="487.65" font-family="DejaVu Sans, sans-serif" font-size="8.15" fill="#333">Joking</text>
<rect x="321.2" y="301.6" width="220.00000000000006" height="205.7" fill="none" stroke="#7a7a7a" stroke-width="1"/>
<text x="431.20" y="535.6" text-anchor="middle" font-family="DejaVu Sans, sans-serif" font-size="8.0" fill="#333">False Positive Rate</text>
<text transform="translate(292.5,405.55) rotate(-90)" text-anchor="middle" font-family="DejaVu Sans, sans-serif" font-size="8.0" fill="#333">True Positive Rate</text>
<text x="426.40" y="555.20" text-anchor="end" font-family="Liberation Sans, Noto Sans CJK SC, sans-serif" font-size="11.4" font-weight="bold" fill="#222" stroke="#222" stroke-width="0.25">（</text>
<text x="432.80" y="555.40" text-anchor="middle" font-family="Liberation Sans, Noto Sans CJK SC, sans-serif" font-size="13.5" fill="#222" stroke="#222" stroke-width="0.5">d</text>
<text x="439.30" y="555.20" text-anchor="start" font-family="Liberation Sans, Noto Sans CJK SC, sans-serif" font-size="11.4" font-weight="bold" fill="#222" stroke="#222" stroke-width="0.25">）</text>
</g>
</svg></body></html>
